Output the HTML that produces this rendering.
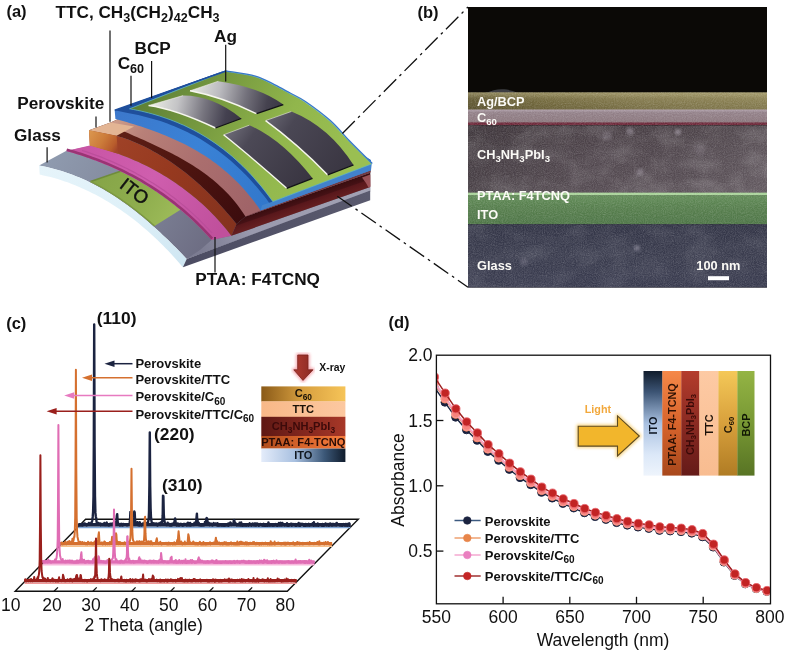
<!DOCTYPE html>
<html><head><meta charset="utf-8"><title>Figure</title>
<style>
html,body{margin:0;padding:0;background:#fff;}
svg{display:block}
text{font-family:"Liberation Sans",sans-serif;}
.b{font-weight:bold}
</style></head><body>
<svg width="785" height="650" viewBox="0 0 785 650">
<defs>
<filter id="grain" x="0" y="0" width="100%" height="100%">
  <feTurbulence type="fractalNoise" baseFrequency="0.9" numOctaves="2" seed="3" result="n"/>
  <feColorMatrix in="n" type="matrix" values="0 0 0 0 1  0 0 0 0 1  0 0 0 0 1  0.9 0.9 0.9 0 -1.05" result="a"/>
  <feComposite in="a" in2="SourceGraphic" operator="in"/>
</filter>
<filter id="cloud" x="0" y="0" width="100%" height="100%">
  <feTurbulence type="fractalNoise" baseFrequency="0.035 0.05" numOctaves="3" seed="11" result="n"/>
  <feColorMatrix in="n" type="matrix" values="0 0 0 0 1  0 0 0 0 1  0 0 0 0 1  1.6 0 0 0 -0.62" result="a"/>
  <feComposite in="a" in2="SourceGraphic" operator="in"/>
</filter>
<filter id="blur1"><feGaussianBlur stdDeviation="0.6"/></filter>
<filter id="blur2"><feGaussianBlur stdDeviation="1.6"/></filter>
<filter id="blur3"><feGaussianBlur stdDeviation="3"/></filter>
<linearGradient id="agbcp" x1="0" y1="0" x2="1" y2="0">
  <stop offset="0" stop-color="#5e5530"/><stop offset="0.25" stop-color="#70663a"/><stop offset="0.6" stop-color="#80764a"/><stop offset="1" stop-color="#887e50"/>
</linearGradient>
<linearGradient id="c60b" x1="0" y1="0" x2="0" y2="1">
  <stop offset="0" stop-color="#b0a0ab"/><stop offset="0.22" stop-color="#938189"/><stop offset="1" stop-color="#8a767c"/>
</linearGradient>
<linearGradient id="pvkb" x1="0" y1="0" x2="0" y2="1">
  <stop offset="0" stop-color="#493f45"/><stop offset="0.5" stop-color="#52484f"/><stop offset="1" stop-color="#564c53"/>
</linearGradient>
<linearGradient id="itob" x1="0" y1="0" x2="0" y2="1">
  <stop offset="0" stop-color="#628c58"/><stop offset="0.4" stop-color="#577f4e"/><stop offset="1" stop-color="#4e7547"/>
</linearGradient>
<linearGradient id="glassb" x1="0" y1="0" x2="0" y2="1">
  <stop offset="0" stop-color="#323446"/><stop offset="0.5" stop-color="#3a3c4e"/><stop offset="1" stop-color="#383a4e"/>
</linearGradient>
<linearGradient id="c60c" x1="0" y1="0" x2="1" y2="0">
  <stop offset="0" stop-color="#8a5a18"/><stop offset="0.5" stop-color="#d8a040"/><stop offset="1" stop-color="#f6c458"/>
</linearGradient>
<linearGradient id="ttcc" x1="0" y1="0" x2="1" y2="0">
  <stop offset="0" stop-color="#f8b888"/><stop offset="1" stop-color="#fcc8a0"/>
</linearGradient>
<linearGradient id="pvkc" x1="0" y1="0" x2="1" y2="0">
  <stop offset="0" stop-color="#5e1814"/><stop offset="0.6" stop-color="#8a2a20"/><stop offset="1" stop-color="#a83828"/>
</linearGradient>
<linearGradient id="ptaac" x1="0" y1="0" x2="1" y2="0">
  <stop offset="0" stop-color="#b04c1c"/><stop offset="0.6" stop-color="#e06a30"/><stop offset="1" stop-color="#f47c3c"/>
</linearGradient>
<linearGradient id="itoc" x1="0" y1="0" x2="1" y2="0">
  <stop offset="0" stop-color="#e4ecfa"/><stop offset="0.4" stop-color="#a8c0e0"/><stop offset="0.75" stop-color="#3c5878"/><stop offset="1" stop-color="#101c2c"/>
</linearGradient>
<linearGradient id="xrayg" x1="0" y1="0" x2="1" y2="0">
  <stop offset="0" stop-color="#b03a30"/><stop offset="1" stop-color="#8a2a24"/>
</linearGradient>
<linearGradient id="itod" x1="0" y1="0" x2="0" y2="1">
  <stop offset="0" stop-color="#101c2c"/><stop offset="0.2" stop-color="#3c5474"/><stop offset="0.5" stop-color="#a8c0e0"/><stop offset="0.8" stop-color="#dce8f8"/><stop offset="1" stop-color="#eef4fc"/>
</linearGradient>
<linearGradient id="ptaad" x1="0" y1="0" x2="0" y2="1">
  <stop offset="0" stop-color="#f58848"/><stop offset="0.5" stop-color="#d8642c"/><stop offset="1" stop-color="#a8481c"/>
</linearGradient>
<linearGradient id="pvkd" x1="0" y1="0" x2="0" y2="1">
  <stop offset="0" stop-color="#b43c2c"/><stop offset="0.5" stop-color="#8a2a22"/><stop offset="1" stop-color="#641a18"/>
</linearGradient>
<linearGradient id="ttcd" x1="0" y1="0" x2="0" y2="1">
  <stop offset="0" stop-color="#fdcaa4"/><stop offset="1" stop-color="#f8bc90"/>
</linearGradient>
<linearGradient id="c60d" x1="0" y1="0" x2="0" y2="1">
  <stop offset="0" stop-color="#f4c858"/><stop offset="0.5" stop-color="#d8a03c"/><stop offset="1" stop-color="#b07c24"/>
</linearGradient>
<linearGradient id="bcpd" x1="0" y1="0" x2="0" y2="1">
  <stop offset="0" stop-color="#94b444"/><stop offset="0.5" stop-color="#789834"/><stop offset="1" stop-color="#587424"/>
</linearGradient>
<linearGradient id="gl_top" gradientUnits="userSpaceOnUse" x1="40" y1="160" x2="200" y2="250">
  <stop offset="0" stop-color="#909cb0"/><stop offset="0.5" stop-color="#82889c"/><stop offset="1" stop-color="#6e6e84"/>
</linearGradient>
<linearGradient id="gl_front" gradientUnits="userSpaceOnUse" x1="40" y1="165" x2="185" y2="265">
  <stop offset="0" stop-color="#e6f4fa"/><stop offset="0.6" stop-color="#def0f8"/><stop offset="1" stop-color="#cfe6f2"/>
</linearGradient>
<linearGradient id="gl_end" gradientUnits="userSpaceOnUse" x1="185" y1="262" x2="370" y2="196">
  <stop offset="0" stop-color="#4c4c62"/><stop offset="1" stop-color="#5a5a6e"/>
</linearGradient>
<linearGradient id="gl_strip" gradientUnits="userSpaceOnUse" x1="200" y1="245" x2="370" y2="188">
  <stop offset="0" stop-color="#7c7c92"/><stop offset="0.3" stop-color="#9a9aae"/><stop offset="1" stop-color="#a2a2b4"/>
</linearGradient>
<linearGradient id="ito_a" gradientUnits="userSpaceOnUse" x1="100" y1="175" x2="170" y2="220">
  <stop offset="0" stop-color="#86a548"/><stop offset="0.6" stop-color="#8fae4e"/><stop offset="1" stop-color="#9cba58"/>
</linearGradient>
<linearGradient id="pink_a" gradientUnits="userSpaceOnUse" x1="70" y1="150" x2="215" y2="238">
  <stop offset="0" stop-color="#c854a4"/><stop offset="0.5" stop-color="#cf5eae"/><stop offset="1" stop-color="#c0509c"/>
</linearGradient>
<linearGradient id="wall_a" gradientUnits="userSpaceOnUse" x1="89" y1="138" x2="236" y2="230">
  <stop offset="0" stop-color="#a2452a"/><stop offset="0.5" stop-color="#96391f"/><stop offset="1" stop-color="#83321e"/>
</linearGradient>
<linearGradient id="oblock" gradientUnits="userSpaceOnUse" x1="89" y1="130" x2="118" y2="148">
  <stop offset="0" stop-color="#dc9850"/><stop offset="0.5" stop-color="#cc7c3a"/><stop offset="0.85" stop-color="#b85c2c"/><stop offset="1" stop-color="#a2452a"/>
</linearGradient>
<linearGradient id="pvk_end" gradientUnits="userSpaceOnUse" x1="300" y1="196" x2="304.5" y2="209">
  <stop offset="0" stop-color="#360c0e"/><stop offset="0.48" stop-color="#451115"/><stop offset="0.56" stop-color="#58171b"/><stop offset="1" stop-color="#641e20"/>
</linearGradient>
<linearGradient id="maroon_a" gradientUnits="userSpaceOnUse" x1="115" y1="130" x2="240" y2="222">
  <stop offset="0" stop-color="#5f2016"/><stop offset="0.5" stop-color="#4e1510"/><stop offset="1" stop-color="#3c0c0e"/>
</linearGradient>
<linearGradient id="rosy_a" gradientUnits="userSpaceOnUse" x1="110" y1="122" x2="245" y2="214">
  <stop offset="0" stop-color="#d0a08c"/><stop offset="0.2" stop-color="#b88078"/><stop offset="0.6" stop-color="#aa6e6e"/><stop offset="1" stop-color="#a06468"/>
</linearGradient>
<linearGradient id="blue_a" gradientUnits="userSpaceOnUse" x1="115" y1="112" x2="262" y2="207">
  <stop offset="0" stop-color="#3c78cc"/><stop offset="0.5" stop-color="#3a82d6"/><stop offset="1" stop-color="#3278cc"/>
</linearGradient>
<linearGradient id="green_a" gradientUnits="userSpaceOnUse" x1="150" y1="85" x2="330" y2="190">
  <stop offset="0" stop-color="#5e8036"/><stop offset="0.3" stop-color="#76993f"/><stop offset="0.65" stop-color="#91b64c"/><stop offset="1" stop-color="#9abf52"/>
</linearGradient>
<linearGradient id="pad1" gradientUnits="userSpaceOnUse" x1="150" y1="104" x2="238" y2="122">
  <stop offset="0" stop-color="#eceee6"/><stop offset="0.3" stop-color="#c4c4c6"/><stop offset="0.6" stop-color="#77757f"/><stop offset="0.85" stop-color="#444150"/><stop offset="1" stop-color="#3a3744"/>
</linearGradient>
<linearGradient id="pad2" gradientUnits="userSpaceOnUse" x1="192" y1="89" x2="280" y2="108">
  <stop offset="0" stop-color="#e6e8e0"/><stop offset="0.3" stop-color="#bcbcc0"/><stop offset="0.6" stop-color="#74727c"/><stop offset="0.85" stop-color="#45424f"/><stop offset="1" stop-color="#3c3946"/>
</linearGradient>
<linearGradient id="pad3" gradientUnits="userSpaceOnUse" x1="226" y1="132" x2="305" y2="185">
  <stop offset="0" stop-color="#6e6c78"/><stop offset="0.25" stop-color="#4c4956"/><stop offset="1" stop-color="#393541"/>
</linearGradient>
<linearGradient id="pad4" gradientUnits="userSpaceOnUse" x1="268" y1="118" x2="345" y2="170">
  <stop offset="0" stop-color="#666470"/><stop offset="0.25" stop-color="#4a4754"/><stop offset="1" stop-color="#3a3642"/>
</linearGradient>
<linearGradient id="agv" x1="0" y1="0" x2="0" y2="1">
  <stop offset="0" stop-color="#c8c090" stop-opacity="0.5"/><stop offset="0.35" stop-color="#c8c090" stop-opacity="0.08"/><stop offset="1" stop-color="#000" stop-opacity="0.08"/>
</linearGradient>
<linearGradient id="pvkh" x1="0" y1="0" x2="1" y2="0">
  <stop offset="0" stop-color="#000" stop-opacity="0.16"/><stop offset="0.45" stop-color="#000" stop-opacity="0"/><stop offset="1" stop-color="#fff" stop-opacity="0.08"/>
</linearGradient>

</defs>
<rect width="785" height="650" fill="#fff"/>
<g id="panel-a">
<path d="M39.1,165.6 L42.9,166.3 L46.7,167.1 L50.5,168.0 L54.2,169.0 L57.9,170.0 L61.6,171.1 L65.2,172.2 L68.8,173.5 L72.4,174.8 L75.9,176.2 L79.4,177.6 L82.8,179.1 L86.2,180.6 L89.6,182.3 L93.0,183.9 L96.3,185.7 L99.6,187.4 L102.9,189.3 L106.1,191.2 L109.3,193.1 L112.5,195.1 L115.6,197.1 L118.8,199.2 L121.9,201.4 L124.9,203.5 L128.0,205.7 L131.0,208.0 L134.0,210.3 L136.9,212.6 L139.9,215.0 L142.8,217.3 L145.7,219.8 L148.6,222.2 L151.4,224.7 L154.3,227.2 L157.1,229.8 L159.9,232.3 L162.6,234.9 L165.4,237.5 L168.1,240.1 L170.8,242.8 L173.5,245.4 L176.2,248.1 L178.8,250.8 L181.5,253.5 L184.1,256.2 L186.7,258.9 L370.2,191.8 L370.2,160 L225,90 L90,146 L66,151 Z" fill="url(#gl_top)"/>
<path d="M39.1,165.6 L42.9,166.3 L46.7,167.1 L50.5,168.0 L54.2,169.0 L57.9,170.0 L61.6,171.1 L65.2,172.2 L68.8,173.5 L72.4,174.8 L75.9,176.2 L79.4,177.6 L82.8,179.1 L86.2,180.6 L89.6,182.3 L93.0,183.9 L96.3,185.7 L99.6,187.4 L102.9,189.3 L106.1,191.2 L109.3,193.1 L112.5,195.1 L115.6,197.1 L118.8,199.2 L121.9,201.4 L124.9,203.5 L128.0,205.7 L131.0,208.0 L134.0,210.3 L136.9,212.6 L139.9,215.0 L142.8,217.3 L145.7,219.8 L148.6,222.2 L151.4,224.7 L154.3,227.2 L157.1,229.8 L159.9,232.3 L162.6,234.9 L165.4,237.5 L168.1,240.1 L170.8,242.8 L173.5,245.4 L176.2,248.1 L178.8,250.8 L181.5,253.5 L184.1,256.2 L186.7,258.9 L182.9,267.3 L180.5,264.5 L178.1,261.7 L175.7,259.0 L173.2,256.2 L170.7,253.5 L168.2,250.8 L165.6,248.2 L163.0,245.5 L160.4,242.9 L157.7,240.3 L155.0,237.8 L152.3,235.3 L149.6,232.8 L146.8,230.3 L144.0,227.9 L141.1,225.5 L138.3,223.1 L135.4,220.8 L132.5,218.5 L129.5,216.3 L126.5,214.1 L123.5,211.9 L120.5,209.8 L117.4,207.8 L114.3,205.7 L111.2,203.8 L108.1,201.8 L104.9,199.9 L101.7,198.1 L98.5,196.3 L95.2,194.6 L91.9,192.9 L88.6,191.3 L85.3,189.7 L81.9,188.2 L78.6,186.7 L75.1,185.3 L71.7,183.9 L68.3,182.6 L64.8,181.4 L61.3,180.2 L57.7,179.1 L54.2,178.1 L50.6,177.1 L47.0,176.2 L43.4,175.4 L39.7,174.6 Z" fill="url(#gl_front)" />
<polygon points="186.7,258.9 370.2,190.6 370.2,200.2 182.9,267.3" fill="url(#gl_end)" />
<polygon points="211.6,240.0 231.4,235.8 370.2,187.0 370.2,190.6 186.7,258.9 200.0,250.0" fill="url(#gl_strip)" />
<path d="M90.6,181.5 L93.8,183.1 L97.1,184.9 L100.4,186.6 L103.7,188.5 L106.9,190.4 L110.1,192.3 L113.3,194.3 L116.4,196.3 L119.6,198.4 L122.7,200.6 L125.7,202.7 L128.8,204.9 L131.8,207.2 L134.8,209.5 L137.7,211.8 L140.7,214.2 L143.6,216.5 L146.5,219.0 L149.4,221.4 L152.2,223.9 L154.5,225.9 L180.5,209.8 L179.6,209.0 L176.7,206.7 L173.9,204.4 L171.0,202.2 L168.1,200.0 L165.2,197.9 L162.2,195.7 L159.2,193.7 L156.2,191.6 L153.2,189.6 L150.1,187.7 L147.0,185.8 L143.9,183.9 L140.8,182.0 L137.6,180.2 L134.5,178.5 L131.3,176.7 L128.0,175.1 L124.8,173.4 L121.5,171.8 L120.5,171.3 Z" fill="url(#ito_a)" />
<path d="M90.6,181.5 L120.5,171.3" stroke="#6f8c3a" stroke-width="1.6" fill="none"/>
<path d="M90.6,181.5 L93.8,183.1 L97.1,184.9 L100.4,186.6 L103.7,188.5 L106.9,190.4 L110.1,192.3 L113.3,194.3 L116.4,196.3 L119.6,198.4 L122.7,200.6 L125.7,202.7 L128.8,204.9 L131.8,207.2 L134.8,209.5 L137.7,211.8 L140.7,214.2 L143.6,216.5 L146.5,219.0 L149.4,221.4 L152.2,223.9 L154.5,225.9" fill="none" stroke="#7d9a40" stroke-width="1.4" />
<path d="M66.1,151.0 L69.7,152.0 L73.3,153.1 L76.9,154.2 L80.5,155.3 L84.0,156.5 L87.5,157.7 L91.0,159.0 L94.5,160.2 L98.0,161.5 L101.4,162.9 L104.8,164.3 L108.2,165.7 L111.6,167.2 L114.9,168.7 L118.2,170.2 L121.5,171.8 L124.8,173.4 L128.0,175.1 L131.3,176.7 L134.5,178.5 L137.6,180.2 L140.8,182.0 L143.9,183.9 L147.0,185.8 L150.1,187.7 L153.2,189.6 L156.2,191.6 L159.2,193.7 L162.2,195.7 L165.2,197.9 L168.1,200.0 L171.0,202.2 L173.9,204.4 L176.7,206.7 L179.6,209.0 L182.4,211.4 L185.2,213.8 L187.9,216.2 L190.7,218.7 L193.4,221.2 L196.1,223.8 L198.7,226.4 L201.3,229.0 L203.9,231.7 L206.5,234.4 L209.1,237.2 L211.6,240.0 L231.4,235.8 L231.4,235.8 L229.2,232.9 L226.9,230.0 L224.6,227.2 L222.2,224.4 L219.8,221.7 L217.3,219.0 L214.8,216.3 L212.3,213.7 L209.7,211.1 L207.1,208.6 L204.5,206.1 L201.8,203.6 L199.1,201.2 L196.3,198.8 L193.5,196.5 L190.7,194.2 L187.8,191.9 L184.9,189.7 L182.0,187.5 L179.0,185.4 L176.0,183.3 L173.0,181.3 L169.9,179.3 L166.9,177.3 L163.8,175.4 L160.6,173.6 L157.5,171.8 L154.3,170.0 L151.1,168.3 L147.8,166.6 L144.6,165.0 L141.3,163.4 L138.0,161.8 L134.6,160.4 L131.3,158.9 L127.9,157.5 L124.5,156.2 L121.1,154.9 L117.7,153.6 L114.3,152.5 L110.8,151.3 L107.4,150.2 L103.9,149.2 L100.4,148.2 L96.9,147.2 L93.3,146.3 L89.8,145.5 Z" fill="url(#pink_a)"/>
<path d="M66.7,149.7 L70.3,150.7 L73.9,151.8 L77.5,152.9 L81.1,154.0 L84.6,155.2 L88.1,156.4 L91.6,157.7 L95.1,158.9 L98.6,160.2 L102.0,161.6 L105.4,163.0 L108.8,164.4 L112.2,165.9 L115.5,167.4 L118.8,168.9 L122.1,170.5 L125.4,172.1 L128.6,173.8 L131.9,175.4 L135.1,177.2 L138.2,178.9 L141.4,180.7 L144.5,182.6 L147.6,184.5 L150.7,186.4 L153.8,188.3 L156.8,190.3 L159.8,192.4 L162.8,194.4 L165.8,196.6 L168.7,198.7 L171.6,200.9 L174.5,203.1 L177.3,205.4 L180.2,207.7 L183.0,210.1 L185.8,212.5 L188.5,214.9 L191.3,217.4 L194.0,219.9 L196.7,222.5 L199.3,225.1 L201.9,227.7 L204.5,230.4 L207.1,233.1 L209.7,235.9 L212.2,238.7" fill="none" stroke="#9a3474" stroke-width="2.6" />
<path d="M82.0,150.4 L83.1,150.7 L86.6,151.9 L90.1,153.1 L93.6,154.4 L97.1,155.6 L100.6,156.9 L104.0,158.3 L107.4,159.7 L110.8,161.1 L114.2,162.6 L117.5,164.1 L120.8,165.6 L124.1,167.2 L127.4,168.8 L130.6,170.5 L133.9,172.1 L137.1,173.9 L140.2,175.6 L143.4,177.4 L146.5,179.3 L149.6,181.2 L152.7,183.1 L155.8,185.0 L158.8,187.0 L161.8,189.1 L164.8,191.1 L167.8,193.3 L170.7,195.4 L173.6,197.6 L176.5,199.8 L179.3,202.1 L182.2,204.4 L185.0,206.8 L187.8,209.2 L190.5,211.6 L193.3,214.1 L196.0,216.6 L198.7,219.2 L201.3,221.8 L203.9,224.4 L206.5,227.1 L209.1,229.8 L211.7,232.6 L212.0,233.0" fill="none" stroke="#b84c98" stroke-width="1.2" opacity="0.8"/>
<path d="M89.0,130.2 L92.8,130.7 L96.6,131.2 L100.3,131.9 L104.0,132.6 L107.7,133.4 L111.4,134.3 L115.1,135.3 L118.7,136.4 L122.3,137.6 L125.9,138.8 L129.4,140.1 L132.9,141.5 L136.4,143.0 L139.9,144.5 L143.3,146.1 L146.8,147.8 L150.1,149.5 L153.5,151.4 L156.8,153.2 L160.1,155.2 L163.4,157.2 L166.6,159.2 L169.8,161.3 L173.0,163.5 L176.1,165.7 L179.2,168.0 L182.3,170.3 L185.3,172.6 L188.4,175.0 L191.3,177.5 L194.3,180.0 L197.2,182.5 L200.1,185.1 L202.9,187.7 L205.7,190.3 L208.5,193.0 L211.2,195.7 L213.9,198.4 L216.6,201.1 L219.2,203.9 L221.8,206.7 L224.3,209.5 L226.8,212.4 L229.3,215.2 L231.7,218.1 L234.1,221.0 L236.5,223.9 L231.4,235.8 L229.2,232.9 L226.9,230.0 L224.6,227.2 L222.2,224.4 L219.8,221.7 L217.3,219.0 L214.8,216.3 L212.3,213.7 L209.7,211.1 L207.1,208.6 L204.5,206.1 L201.8,203.6 L199.1,201.2 L196.3,198.8 L193.5,196.5 L190.7,194.2 L187.8,191.9 L184.9,189.7 L182.0,187.5 L179.0,185.4 L176.0,183.3 L173.0,181.3 L169.9,179.3 L166.9,177.3 L163.8,175.4 L160.6,173.6 L157.5,171.8 L154.3,170.0 L151.1,168.3 L147.8,166.6 L144.6,165.0 L141.3,163.4 L138.0,161.8 L134.6,160.4 L131.3,158.9 L127.9,157.5 L124.5,156.2 L121.1,154.9 L117.7,153.6 L114.3,152.5 L110.8,151.3 L107.4,150.2 L103.9,149.2 L100.4,148.2 L96.9,147.2 L93.3,146.3 L89.8,145.5 Z" fill="url(#wall_a)" />
<polygon points="236.5,223.9 245.5,216.6 370.2,172.8 370.2,187.0 231.4,235.8" fill="url(#pvk_end)" />
<path d="M89.0,130.2 L92.8,130.7 L96.6,131.2 L100.3,131.9 L104.0,132.6 L107.7,133.4 L111.4,134.3 L115.1,135.3 L118.7,136.4 L122.3,137.6 L125.9,138.8 L129.4,140.1 L132.9,141.5 L136.4,143.0 L139.9,144.5 L143.3,146.1 L146.8,147.8 L150.1,149.5 L153.5,151.4 L156.8,153.2 L160.1,155.2 L163.4,157.2 L166.6,159.2 L169.8,161.3 L173.0,163.5 L176.1,165.7 L179.2,168.0 L182.3,170.3 L185.3,172.6 L188.4,175.0 L191.3,177.5 L194.3,180.0 L197.2,182.5 L200.1,185.1 L202.9,187.7 L205.7,190.3 L208.5,193.0 L211.2,195.7 L213.9,198.4 L216.6,201.1 L219.2,203.9 L221.8,206.7 L224.3,209.5 L226.8,212.4 L229.3,215.2 L231.7,218.1 L234.1,221.0 L236.5,223.9 L245.5,216.6 L370.2,172.8 L370.2,160 L225,72 L110.5,122.5 Z" fill="url(#maroon_a)"/>
<path d="M112.0,126.0 L115.2,127.4 L118.3,128.9 L121.5,130.3 L124.7,131.7 L127.9,133.1 L131.0,134.5 L134.2,135.9 L137.4,137.3 L140.6,138.7 L143.8,140.1 L146.9,141.6 L150.1,143.0 L153.3,144.5 L156.4,145.9 L159.6,147.4 L162.7,148.9 L165.8,150.5 L168.9,152.0 L172.0,153.6 L175.1,155.2 L178.1,156.8 L181.1,158.5 L184.1,160.2 L187.1,162.0 L190.1,163.7 L193.0,165.5 L195.9,167.4 L198.7,169.3 L201.6,171.3 L204.4,173.3 L207.1,175.3 L209.9,177.4 L212.6,179.6 L215.2,181.8 L217.8,184.0 L220.4,186.4 L222.9,188.8 L225.4,191.2 L227.9,193.7 L230.2,196.3 L232.6,199.0 L234.9,201.7 L237.1,204.6 L239.3,207.4 L241.4,210.4 L243.5,213.5 L245.5,216.6 L370.2,172.8 L370.2,160 L225,72 L110.5,122.5 Z" fill="url(#rosy_a)"/>
<polygon points="89.0,130.2 110.5,122.5 134.0,126.5 116.6,135.8" fill="#e3b594" />
<polygon points="89.0,130.2 116.6,135.8 118.0,153.8 89.8,145.5" fill="url(#oblock)" />
<polygon points="260.5,210.5 371.0,170.2 370.2,172.8 245.5,216.6" fill="#6e3a44" />
<path d="M115.4,119.0 L119.1,120.0 L122.9,121.1 L126.6,122.1 L130.2,123.2 L133.9,124.3 L137.5,125.5 L141.1,126.6 L144.6,127.8 L148.2,129.0 L151.7,130.3 L155.2,131.5 L158.6,132.8 L162.1,134.2 L165.5,135.5 L168.8,137.0 L172.2,138.4 L175.5,139.9 L178.8,141.4 L182.1,143.0 L185.3,144.6 L188.5,146.3 L191.7,148.0 L194.8,149.8 L197.9,151.6 L201.0,153.4 L204.1,155.3 L207.1,157.3 L210.1,159.3 L213.0,161.4 L216.0,163.6 L218.8,165.8 L221.7,168.0 L224.5,170.4 L227.3,172.8 L230.1,175.2 L232.8,177.8 L235.5,180.4 L238.2,183.0 L240.8,185.8 L243.4,188.6 L245.9,191.5 L248.4,194.5 L250.9,197.5 L253.4,200.6 L255.8,203.8 L258.2,207.1 L260.5,210.5 L371,170.2 L371,160 L225,70.5 L114.7,110.3 Z" fill="url(#blue_a)"/>
<path d="M114.7,110.3 L126.5,112.8 L130.4,113.5 L134.3,114.3 L138.2,115.1 L142.0,116.0 L145.7,116.9 L149.5,117.9 L153.1,118.9 L156.8,120.0 L160.4,121.1 L163.9,122.3 L167.4,123.6 L170.9,124.9 L174.3,126.3 L177.7,127.7 L181.1,129.2 L184.4,130.7 L187.7,132.3 L190.9,133.9 L194.1,135.6 L197.3,137.3 L200.4,139.1 L203.5,141.0 L206.6,142.9 L209.6,144.9 L212.6,146.9 L215.6,148.9 L218.5,151.1 L221.4,153.3 L224.3,155.5 L227.1,157.8 L229.9,160.1 L232.7,162.5 L235.4,165.0 L238.1,167.5 L240.8,170.0 L243.5,172.7 L246.1,175.3 L248.7,178.0 L251.2,180.8 L253.8,183.7 L256.3,186.5 L258.8,189.5 L261.2,192.5 L263.7,195.5 L266.1,198.6 L268.4,201.8 L270.8,205.0 L272.8,201.6 L270.5,198.4 L268.1,195.2 L265.7,192.1 L263.3,189.0 L260.9,186.0 L258.4,183.1 L255.9,180.2 L253.4,177.3 L250.9,174.5 L248.3,171.8 L245.7,169.1 L243.1,166.5 L240.4,163.9 L237.7,161.4 L235.0,158.9 L232.3,156.5 L229.5,154.2 L226.7,151.9 L223.8,149.6 L220.9,147.4 L218.0,145.3 L215.1,143.2 L212.1,141.2 L209.1,139.2 L206.1,137.3 L203.0,135.4 L199.9,133.6 L196.7,131.8 L193.5,130.1 L190.3,128.5 L187.1,126.9 L183.8,125.3 L180.4,123.9 L177.1,122.4 L173.6,121.1 L170.2,119.7 L166.7,118.5 L163.2,117.3 L159.6,116.1 L156.0,115.0 L152.3,113.9 L148.6,112.9 L144.9,112.0 L141.1,111.1 L137.3,110.3 L133.4,109.5 L129.5,108.8 L225,70.5 Z" fill="#1f4f9c"/>
<polygon points="272.8,201.6 371.7,163.9 371.0,170.2 260.5,210.5 262.0,205.2" fill="#4282cc" />
<polygon points="362.0,177.6 370.3,174.6 370.6,186.6 368.5,187.6 366.0,183.0" fill="#a85c62" opacity="0.85"/>
<path d="M225.4,71.3 C230.3,72.2 246.6,74.2 254.7,76.5 C262.8,78.8 267.9,82.1 273.8,85.0 C279.7,87.9 284.8,90.9 290.0,93.7 C295.2,96.5 298.2,97.4 304.8,101.9 C311.4,106.5 322.4,114.5 329.7,121.0 C337.0,127.5 342.9,135.0 348.8,141.1 C354.7,147.2 361.2,153.5 365.0,157.3 C368.8,161.1 370.6,162.8 371.7,163.9 L272.8,201.6 L272.8,201.6 L270.5,198.4 L268.1,195.2 L265.7,192.1 L263.3,189.0 L260.9,186.0 L258.4,183.1 L255.9,180.2 L253.4,177.3 L250.9,174.5 L248.3,171.8 L245.7,169.1 L243.1,166.5 L240.4,163.9 L237.7,161.4 L235.0,158.9 L232.3,156.5 L229.5,154.2 L226.7,151.9 L223.8,149.6 L220.9,147.4 L218.0,145.3 L215.1,143.2 L212.1,141.2 L209.1,139.2 L206.1,137.3 L203.0,135.4 L199.9,133.6 L196.7,131.8 L193.5,130.1 L190.3,128.5 L187.1,126.9 L183.8,125.3 L180.4,123.9 L177.1,122.4 L173.6,121.1 L170.2,119.7 L166.7,118.5 L163.2,117.3 L159.6,116.1 L156.0,115.0 L152.3,113.9 L148.6,112.9 L144.9,112.0 L141.1,111.1 L137.3,110.3 L133.4,109.5 L129.5,108.8 L225.4,71.3 Z" fill="url(#green_a)" stroke="#5fb8c8" stroke-width="0.7"/>
<path d="M226.0,70.9 C230.9,71.8 247.2,73.8 255.3,76.1 C263.4,78.4 268.5,81.7 274.4,84.6 C280.3,87.5 285.4,90.5 290.6,93.3 C295.8,96.1 298.8,97.0 305.4,101.5 C312.0,106.0 323.0,114.1 330.3,120.6 C337.6,127.1 343.5,134.6 349.4,140.7 C355.3,146.8 361.8,153.1 365.6,156.9 C369.4,160.7 371.2,162.4 372.3,163.5" fill="none" stroke="#3a78c8" stroke-width="1.3"/>
<path d="M114.7,110.3 L225.4,71.3" fill="none" stroke="#1f4f9c" stroke-width="1.6"/>
<path d="M148.6,105.5 L183.0,95.6 Q213.0,95.5 241.3,118.5 L215.5,128.0 Q174.3,108.8 148.6,105.5 Z" fill="url(#pad1)"/>
<path d="M215.5,128.0 Q174.3,108.8 148.6,105.5" stroke="#f6f6ee" stroke-width="1.4" fill="none"/>
<path d="M148.6,105.5 L183.0,95.6" stroke="#f0f0e8" stroke-width="0.8" fill="none" opacity="0.7"/>
<path d="M215.5,128.0 L241.3,118.5" stroke="#121218" stroke-width="1.3" fill="none"/>
<path d="M190.0,90.8 L218.3,81.2 Q258.6,86.7 283.3,104.6 L256.6,113.7 Q221.1,96.6 190.0,90.8 Z" fill="url(#pad2)"/>
<path d="M256.6,113.7 Q221.1,96.6 190.0,90.8" stroke="#f6f6ee" stroke-width="1.4" fill="none"/>
<path d="M190.0,90.8 L218.3,81.2" stroke="#f0f0e8" stroke-width="0.8" fill="none" opacity="0.7"/>
<path d="M256.6,113.7 L283.3,104.6" stroke="#121218" stroke-width="1.3" fill="none"/>
<path d="M223.6,134.8 L249.4,125.2 Q282.8,140.1 312.5,178.3 L286.7,188.3 Q251.2,156.8 223.6,134.8 Z" fill="url(#pad3)"/>
<path d="M286.7,188.3 Q251.2,156.8 223.6,134.8" stroke="#f6f6ee" stroke-width="1.4" fill="none"/>
<path d="M223.6,134.8 L249.4,125.2" stroke="#f0f0e8" stroke-width="0.8" fill="none" opacity="0.7"/>
<path d="M286.7,188.3 L312.5,178.3" stroke="#121218" stroke-width="1.3" fill="none"/>
<path d="M265.6,120.6 L291.4,111.5 Q329.2,126.8 353.5,165.0 L327.7,174.9 Q297.8,144.1 265.6,120.6 Z" fill="url(#pad4)"/>
<path d="M327.7,174.9 Q297.8,144.1 265.6,120.6" stroke="#f6f6ee" stroke-width="1.4" fill="none"/>
<path d="M265.6,120.6 L291.4,111.5" stroke="#f0f0e8" stroke-width="0.8" fill="none" opacity="0.7"/>
<path d="M327.7,174.9 L353.5,165.0" stroke="#121218" stroke-width="1.3" fill="none"/>
<line x1="110" y1="30.6" x2="110" y2="121.8" stroke="#111" stroke-width="1.2"/>
<line x1="151.6" y1="61" x2="151.6" y2="98" stroke="#111" stroke-width="1.2"/>
<line x1="131" y1="75.7" x2="131" y2="105.7" stroke="#111" stroke-width="1.2"/>
<line x1="96" y1="116.4" x2="96" y2="127.4" stroke="#111" stroke-width="1.2"/>
<line x1="47.1" y1="147.3" x2="47.1" y2="162.5" stroke="#111" stroke-width="1.2"/>
<line x1="225.7" y1="44.8" x2="225.7" y2="81.5" stroke="#111" stroke-width="1.2"/>
<line x1="215" y1="237" x2="215" y2="272.6" stroke="#111" stroke-width="1.2"/>
<text x="6.4" y="17.3" class="b" font-size="16.5" fill="#111">(a)</text>
<text x="55.5" y="18.3" class="b" font-size="17.2" fill="#111">TTC, CH<tspan dy="4" font-size="12.6">3</tspan><tspan dy="-4" font-size="0.1"> </tspan>(CH<tspan dy="4" font-size="12.6">2</tspan><tspan dy="-4" font-size="0.1"> </tspan>)<tspan dy="4" font-size="12.6">42</tspan><tspan dy="-4" font-size="0.1"> </tspan>CH<tspan dy="4" font-size="12.6">3</tspan><tspan dy="-4" font-size="0.1"> </tspan></text>
<text x="214" y="41.8" class="b" font-size="17.2" fill="#111">Ag</text>
<text x="134.5" y="54.3" class="b" font-size="17.2" fill="#111">BCP</text>
<text x="117.7" y="69.3" class="b" font-size="17.2" fill="#111">C<tspan dy="4" font-size="12.6">60</tspan><tspan dy="-4" font-size="0.1"> </tspan></text>
<text x="17.3" y="108.8" class="b" font-size="17.2" fill="#111">Perovskite</text>
<text x="14" y="141.4" class="b" font-size="17.2" fill="#111">Glass</text>
<text x="195.2" y="285.4" class="b" font-size="17.2" fill="#111">PTAA: F4TCNQ</text>
<text transform="translate(118.5,186.9) rotate(38)" font-size="18.5" fill="#111" stroke="#111" stroke-width="0.45">ITO</text>
</g>
<g id="panel-b">
<rect x="468" y="7" width="299" height="280.5" fill="#0b0906"/>
<path d="M486,93.5 C496,88.2 506,87.8 520,93.5 Z" fill="#3c3e42" filter="url(#blur1)"/>
<rect x="468" y="92.5" width="299" height="18.5" fill="url(#agbcp)"/>
<rect x="468" y="92.3" width="299" height="18.7" fill="url(#agv)"/>
<rect x="468" y="109.5" width="299" height="14" fill="url(#c60b)"/>
<rect x="468" y="122.4" width="299" height="2.8" fill="#6e2c3a" filter="url(#blur1)"/>
<rect x="468" y="125.4" width="299" height="68" fill="url(#pvkb)"/>
<rect x="468" y="192.6" width="299" height="3" fill="#a9d39a"/>
<rect x="468" y="195.4" width="299" height="29" fill="url(#itob)"/>
<rect x="468" y="224.2" width="299" height="63.3" fill="url(#glassb)"/>
<rect x="468" y="125.4" width="299" height="67" fill="#b8a8b8" opacity="0.2" filter="url(#cloud)"/>
<rect x="468" y="225" width="299" height="62.5" fill="#9090b0" opacity="0.1" filter="url(#cloud)"/>
<rect x="468" y="125.4" width="299" height="67" fill="url(#pvkh)"/>
<rect x="468" y="92" width="299" height="195.5" fill="#ffffff" opacity="0.18" filter="url(#grain)"/>
<circle cx="630" cy="131" r="3.5" fill="#e8e0f0" opacity="0.3" filter="url(#blur2)"/>
<circle cx="678" cy="132" r="3" fill="#e8e0f0" opacity="0.35" filter="url(#blur2)"/>
<circle cx="607" cy="136" r="5" fill="#e8e0f0" opacity="0.15" filter="url(#blur2)"/>
<circle cx="640" cy="172" r="3.5" fill="#e8e0f0" opacity="0.25" filter="url(#blur2)"/>
<circle cx="637" cy="248" r="3" fill="#e8e0f0" opacity="0.3" filter="url(#blur2)"/>
<circle cx="524" cy="262" r="4" fill="#e8e0f0" opacity="0.15" filter="url(#blur2)"/>
<circle cx="700" cy="150" r="6" fill="#e8e0f0" opacity="0.1" filter="url(#blur2)"/>
<text x="477" y="106" class="b" font-size="12.8" fill="#fbfaf6">Ag/BCP</text>
<text x="477" y="121.5" class="b" font-size="12.8" fill="#fbfaf6">C<tspan dy="3.2" font-size="9.6">60</tspan><tspan dy="-3.2" font-size="0.1"> </tspan></text>
<text x="477" y="158.5" class="b" font-size="12.8" fill="#fbfaf6">CH<tspan dy="3.2" font-size="9.6">3</tspan><tspan dy="-3.2" font-size="0.1"> </tspan>NH<tspan dy="3.2" font-size="9.6">3</tspan><tspan dy="-3.2" font-size="0.1"> </tspan>PbI<tspan dy="3.2" font-size="9.6">3</tspan><tspan dy="-3.2" font-size="0.1"> </tspan></text>
<text x="477" y="199.5" class="b" font-size="12.8" fill="#fbfaf6">PTAA: F4TCNQ</text>
<text x="477" y="218.6" class="b" font-size="12.8" fill="#fbfaf6">ITO</text>
<text x="477" y="269.6" class="b" font-size="12.8" fill="#fbfaf6">Glass</text>
<text x="696.3" y="269.6" class="b" font-size="12.8" fill="#fbfaf6">100 nm</text>
<rect x="708" y="276.2" width="21" height="4" fill="#fff"/>
<text x="417.5" y="17.5" class="b" font-size="16.5" fill="#111">(b)</text>
<line x1="342.4" y1="133.5" x2="468" y2="7" stroke="#111" stroke-width="1.3" stroke-dasharray="17.6 4.6 2.6 4.6"/>
<line x1="337.3" y1="196.2" x2="468" y2="287.2" stroke="#111" stroke-width="1.3" stroke-dasharray="17.6 4.6 2.6 4.6"/>
</g>
<g id="panel-c">
<polygon points="15.2,591.2 287.3,591.2 358.3,519.2 85.6,519.2" fill="none" stroke="#111" stroke-width="1.4"/>
<line x1="78.3" y1="527.4" x2="350.4" y2="527.4" stroke="#7fa6d8" stroke-width="1.6"/>
<polyline points="78.3,525.4 78.7,525.1 79.1,525.4 79.5,525.3 79.9,524.5 80.2,525.4 80.6,524.3 81.0,525.2 81.4,524.4 81.8,525.4 82.2,525.2 82.6,525.4 83.0,523.6 83.4,524.6 83.7,525.0 84.1,525.0 84.5,523.5 84.9,523.4 85.3,524.4 85.7,524.9 86.1,525.1 86.5,525.4 86.9,524.8 87.2,524.6 87.6,525.0 88.0,524.8 88.4,524.4 88.8,523.0 89.2,524.3 89.6,523.4 90.0,524.0 90.4,523.6 90.7,523.8 91.1,523.7 91.5,522.4 91.9,522.0 92.3,520.2 92.7,516.9 93.1,511.8 93.5,496.5 93.8,446.3 94.2,324.5 94.6,446.8 95.0,496.2 95.4,512.4 95.8,516.4 96.2,518.3 96.6,521.9 97.0,523.1 97.3,522.8 97.7,523.6 98.1,524.4 98.5,522.9 98.9,523.9 99.3,524.2 99.7,523.9 100.1,523.4 100.5,524.8 100.8,525.2 101.2,523.8 101.6,524.7 102.0,524.7 102.4,524.9 102.8,523.9 103.2,524.3 103.6,524.9 104.0,524.0 104.3,523.0 104.7,523.8 105.1,525.3 105.5,523.8 105.9,524.9 106.3,523.3 106.7,522.5 107.1,525.2 107.5,524.7 107.8,524.3 108.2,524.4 108.6,524.3 109.0,525.5 109.4,525.4 109.8,525.1 110.2,523.7 110.6,524.9 111.0,525.0 111.3,525.0 111.7,523.7 112.1,524.0 112.5,524.4 112.9,524.9 113.3,523.1 113.7,524.8 114.1,524.5 114.5,523.2 114.8,525.1 115.2,523.9 115.6,523.2 116.0,522.0 116.4,521.4 116.8,516.0 117.2,514.1 117.6,520.5 117.9,523.7 118.3,523.3 118.7,524.3 119.1,524.8 119.5,524.1 119.9,525.5 120.3,524.4 120.7,524.4 121.1,523.8 121.4,525.1 121.8,523.9 122.2,525.5 122.6,525.5 123.0,525.3 123.4,523.9 123.8,524.4 124.2,524.1 124.6,524.1 124.9,524.7 125.3,524.8 125.7,524.2 126.1,524.5 126.5,525.1 126.9,525.4 127.3,525.3 127.7,524.7 128.1,525.1 128.4,524.9 128.8,524.3 129.2,524.6 129.6,522.8 130.0,520.6 130.4,511.9 130.8,514.0 131.2,520.7 131.6,523.1 131.9,524.3 132.3,523.4 132.7,524.1 133.1,523.7 133.5,521.0 133.9,517.4 134.3,511.4 134.7,512.5 135.1,520.2 135.4,523.1 135.8,523.9 136.2,524.1 136.6,524.8 137.0,524.6 137.4,522.3 137.8,525.0 138.2,524.8 138.6,525.4 138.9,525.3 139.3,525.5 139.7,522.2 140.1,525.0 140.5,524.3 140.9,524.1 141.3,525.5 141.7,524.4 142.0,524.5 142.4,523.7 142.8,523.4 143.2,525.1 143.6,525.0 144.0,524.7 144.4,524.0 144.8,522.0 145.2,523.9 145.5,523.4 145.9,524.2 146.3,523.1 146.7,524.5 147.1,522.9 147.5,523.8 147.9,522.9 148.3,520.8 148.7,518.7 149.0,511.6 149.4,485.2 149.8,432.4 150.2,486.8 150.6,508.2 151.0,517.5 151.4,520.6 151.8,522.8 152.2,523.8 152.5,523.5 152.9,524.4 153.3,524.1 153.7,523.2 154.1,523.3 154.5,524.5 154.9,524.1 155.3,524.1 155.7,523.6 156.0,523.9 156.4,524.5 156.8,523.6 157.2,524.3 157.6,525.5 158.0,524.0 158.4,524.5 158.8,523.4 159.2,524.3 159.5,523.4 159.9,524.0 160.3,524.9 160.7,522.5 161.1,523.0 161.5,524.2 161.9,522.7 162.3,521.0 162.7,515.4 163.0,495.6 163.4,496.2 163.8,514.5 164.2,519.6 164.6,521.6 165.0,524.1 165.4,523.8 165.8,523.8 166.1,525.1 166.5,525.2 166.9,523.6 167.3,525.1 167.7,522.6 168.1,525.1 168.5,523.3 168.9,524.6 169.3,525.2 169.6,524.9 170.0,525.6 170.4,524.6 170.8,525.5 171.2,524.0 171.6,525.6 172.0,524.3 172.4,523.7 172.8,523.5 173.1,524.7 173.5,524.3 173.9,522.8 174.3,523.2 174.7,520.3 175.1,518.4 175.5,521.2 175.9,524.5 176.3,524.9 176.6,525.4 177.0,524.8 177.4,525.3 177.8,523.4 178.2,525.6 178.6,525.0 179.0,524.4 179.4,525.5 179.8,524.1 180.1,525.0 180.5,524.4 180.9,523.7 181.3,525.0 181.7,524.5 182.1,524.8 182.5,525.7 182.9,524.7 183.3,525.5 183.6,524.3 184.0,523.8 184.4,525.0 184.8,524.6 185.2,525.0 185.6,524.6 186.0,524.8 186.4,523.8 186.8,525.6 187.1,524.3 187.5,525.3 187.9,522.8 188.3,525.3 188.7,524.9 189.1,523.3 189.5,524.8 189.9,525.4 190.2,522.9 190.6,524.6 191.0,525.4 191.4,525.1 191.8,524.7 192.2,524.8 192.6,524.8 193.0,525.2 193.4,524.0 193.7,524.8 194.1,525.0 194.5,522.8 194.9,524.2 195.3,523.4 195.7,524.2 196.1,522.9 196.5,517.9 196.9,513.6 197.2,519.7 197.6,520.4 198.0,523.4 198.4,524.2 198.8,522.9 199.2,525.3 199.6,524.8 200.0,524.4 200.4,524.5 200.7,525.5 201.1,525.3 201.5,524.6 201.9,525.6 202.3,525.4 202.7,524.4 203.1,525.2 203.5,524.5 203.9,525.4 204.2,524.4 204.6,524.3 205.0,521.9 205.4,523.4 205.8,523.4 206.2,519.2 206.6,518.1 207.0,518.3 207.4,520.4 207.7,523.6 208.1,524.8 208.5,524.5 208.9,523.0 209.3,524.2 209.7,525.2 210.1,524.7 210.5,524.0 210.9,523.4 211.2,523.9 211.6,524.9 212.0,525.3 212.4,525.5 212.8,525.2 213.2,524.5 213.6,523.1 214.0,524.4 214.4,524.3 214.7,524.1 215.1,523.6 215.5,524.5 215.9,523.5 216.3,524.7 216.7,524.7 217.1,525.4 217.5,523.1 217.8,524.8 218.2,525.7 218.6,525.1 219.0,524.9 219.4,525.6 219.8,525.2 220.2,525.3 220.6,525.0 221.0,525.5 221.3,525.4 221.7,524.8 222.1,525.7 222.5,524.7 222.9,525.0 223.3,525.8 223.7,525.6 224.1,525.6 224.5,525.8 224.8,525.5 225.2,525.6 225.6,524.2 226.0,525.2 226.4,524.4 226.8,525.2 227.2,525.5 227.6,525.2 228.0,524.5 228.3,523.4 228.7,525.7 229.1,524.6 229.5,524.8 229.9,524.3 230.3,522.4 230.7,524.4 231.1,523.6 231.5,525.1 231.8,523.8 232.2,524.4 232.6,524.5 233.0,524.2 233.4,523.8 233.8,520.5 234.2,519.9 234.6,522.3 235.0,523.2 235.3,522.7 235.7,524.0 236.1,524.1 236.5,524.1 236.9,525.4 237.3,524.7 237.7,525.3 238.1,524.3 238.5,525.0 238.8,524.6 239.2,525.5 239.6,522.6 240.0,524.2 240.4,525.5 240.8,525.6 241.2,522.5 241.6,525.3 241.9,524.7 242.3,524.5 242.7,525.8 243.1,524.3 243.5,525.5 243.9,525.3 244.3,524.4 244.7,524.8 245.1,525.7 245.4,524.7 245.8,525.1 246.2,525.5 246.6,525.7 247.0,525.5 247.4,524.9 247.8,524.5 248.2,525.0 248.6,525.8 248.9,524.0 249.3,525.2 249.7,523.3 250.1,524.9 250.5,525.1 250.9,525.1 251.3,525.7 251.7,525.5 252.1,524.0 252.4,523.5 252.8,525.1 253.2,524.4 253.6,524.7 254.0,525.6 254.4,523.5 254.8,524.8 255.2,524.6 255.6,523.4 255.9,525.7 256.3,525.0 256.7,523.6 257.1,523.5 257.5,524.5 257.9,525.0 258.3,524.0 258.7,525.8 259.1,525.5 259.4,525.0 259.8,524.9 260.2,523.9 260.6,524.3 261.0,524.2 261.4,525.2 261.8,524.5 262.2,524.4 262.6,525.7 262.9,525.8 263.3,525.2 263.7,523.8 264.1,524.2 264.5,525.8 264.9,525.5 265.3,525.4 265.7,525.7 266.0,524.8 266.4,524.9 266.8,525.4 267.2,525.7 267.6,525.0 268.0,525.6 268.4,522.4 268.8,524.6 269.2,525.7 269.5,523.9 269.9,525.5 270.3,525.6 270.7,524.1 271.1,525.5 271.5,525.4 271.9,525.2 272.3,525.0 272.7,525.8 273.0,524.7 273.4,525.6 273.8,525.7 274.2,524.9 274.6,525.4 275.0,524.9 275.4,524.1 275.8,525.3 276.2,524.9 276.5,524.4 276.9,525.7 277.3,525.2 277.7,525.7 278.1,525.1 278.5,525.3 278.9,522.9 279.3,525.4 279.7,524.4 280.0,525.6 280.4,524.4 280.8,522.8 281.2,524.9 281.6,525.5 282.0,525.0 282.4,522.9 282.8,525.4 283.2,524.2 283.5,524.8 283.9,524.6 284.3,525.2 284.7,525.6 285.1,525.2 285.5,524.4 285.9,524.3 286.3,524.5 286.7,525.5 287.0,523.1 287.4,525.5 287.8,525.8 288.2,524.3 288.6,525.8 289.0,524.8 289.4,525.5 289.8,525.1 290.1,524.9 290.5,524.8 290.9,523.6 291.3,523.7 291.7,525.8 292.1,525.5 292.5,525.3 292.9,524.0 293.3,524.9 293.6,525.0 294.0,525.2 294.4,524.9 294.8,524.9 295.2,524.1 295.6,525.8 296.0,525.0 296.4,524.8 296.8,525.7 297.1,525.4 297.5,523.9 297.9,524.4 298.3,525.1 298.7,522.9 299.1,525.8 299.5,524.8 299.9,525.0 300.3,525.7 300.6,523.6 301.0,523.6 301.4,524.1 301.8,524.3 302.2,523.9 302.6,523.8 303.0,524.3 303.4,525.2 303.8,525.7 304.1,525.4 304.5,525.6 304.9,524.4 305.3,525.8 305.7,524.0 306.1,525.7 306.5,525.4 306.9,525.2 307.3,525.5 307.6,524.7 308.0,525.6 308.4,525.2 308.8,523.8 309.2,524.8 309.6,525.7 310.0,525.2 310.4,524.9 310.8,524.6 311.1,525.4 311.5,525.4 311.9,525.2 312.3,525.1 312.7,523.2 313.1,524.9 313.5,525.8 313.9,522.3 314.2,523.5 314.6,525.1 315.0,525.6 315.4,525.6 315.8,525.3 316.2,525.5 316.6,525.3 317.0,525.7 317.4,524.8 317.7,523.4 318.1,524.7 318.5,525.8 318.9,524.5 319.3,524.5 319.7,525.0 320.1,525.0 320.5,525.0 320.9,524.9 321.2,525.4 321.6,525.2 322.0,525.7 322.4,524.0 322.8,525.8 323.2,525.2 323.6,525.1 324.0,525.7 324.4,524.9 324.7,524.7 325.1,525.0 325.5,523.5 325.9,525.1 326.3,525.6 326.7,525.6 327.1,523.9 327.5,525.4 327.9,524.7 328.2,524.9 328.6,525.8 329.0,525.8 329.4,523.6 329.8,524.0 330.2,524.7 330.6,523.6 331.0,524.9 331.4,525.6 331.7,525.2 332.1,525.3 332.5,523.9 332.9,525.5 333.3,523.9 333.7,525.1 334.1,524.5 334.5,524.1 334.9,524.3 335.2,525.4 335.6,523.7 336.0,525.3 336.4,525.5 336.8,523.0 337.2,525.1 337.6,525.0 338.0,525.1 338.3,525.1 338.7,524.5 339.1,524.3 339.5,525.4 339.9,525.5 340.3,524.2 340.7,525.5 341.1,525.1 341.5,525.2 341.8,525.7 342.2,525.7 342.6,525.4 343.0,524.5 343.4,524.1 343.8,525.3 344.2,524.7 344.6,524.9 345.0,525.7 345.3,524.9 345.7,523.9 346.1,525.3 346.5,525.7 346.9,525.6 347.3,523.9 347.7,525.8 348.1,525.0 348.5,525.3 348.8,524.4 349.2,523.3 349.6,525.8 350.0,525.5 350.4,525.1" fill="none" stroke="#1b2340" stroke-width="2.4" stroke-linejoin="round"/>
<line x1="78.3" y1="524.8" x2="350.4" y2="524.8" stroke="#1b2340" stroke-width="3.4"/>
<line x1="60.0" y1="546.2" x2="332.1" y2="546.2" stroke="#f6c08a" stroke-width="1.6"/>
<polyline points="60.0,543.4 60.4,544.2 60.8,543.8 61.2,543.9 61.6,542.5 61.9,543.7 62.3,544.5 62.7,543.4 63.1,544.3 63.5,544.1 63.9,543.6 64.3,544.1 64.7,542.4 65.1,543.6 65.4,541.5 65.8,543.6 66.2,544.4 66.6,544.2 67.0,543.1 67.4,542.8 67.8,541.7 68.2,543.5 68.6,543.3 68.9,543.4 69.3,540.9 69.7,543.8 70.1,543.7 70.5,542.8 70.9,543.4 71.3,541.6 71.7,542.0 72.1,542.9 72.4,538.7 72.8,541.6 73.2,541.6 73.6,540.0 74.0,537.0 74.4,537.1 74.8,531.3 75.2,517.3 75.5,470.6 75.9,369.8 76.3,470.8 76.7,517.9 77.1,531.6 77.5,536.9 77.9,538.6 78.3,540.5 78.7,541.9 79.0,541.8 79.4,542.9 79.8,541.9 80.2,541.7 80.6,543.1 81.0,542.6 81.4,542.6 81.8,543.6 82.2,542.1 82.5,542.1 82.9,543.8 83.3,543.1 83.7,544.0 84.1,544.1 84.5,542.4 84.9,543.1 85.3,544.3 85.7,544.0 86.0,544.0 86.4,544.3 86.8,543.6 87.2,544.0 87.6,544.4 88.0,541.8 88.4,543.9 88.8,543.6 89.2,542.8 89.5,544.0 89.9,544.3 90.3,542.5 90.7,544.1 91.1,543.6 91.5,542.4 91.9,544.4 92.3,542.9 92.7,543.6 93.0,544.2 93.4,544.4 93.8,544.3 94.2,543.0 94.6,541.4 95.0,543.6 95.4,543.7 95.8,543.7 96.2,542.9 96.5,543.5 96.9,543.3 97.3,543.3 97.7,542.3 98.1,539.2 98.5,534.8 98.9,532.3 99.3,539.6 99.6,542.1 100.0,543.1 100.4,542.9 100.8,544.0 101.2,543.8 101.6,543.6 102.0,542.4 102.4,544.4 102.8,544.0 103.1,542.9 103.5,544.1 103.9,542.9 104.3,541.4 104.7,541.7 105.1,542.0 105.5,544.4 105.9,544.0 106.3,543.3 106.6,543.6 107.0,544.1 107.4,543.1 107.8,544.3 108.2,543.1 108.6,543.1 109.0,543.1 109.4,544.3 109.8,541.9 110.1,543.9 110.5,543.5 110.9,543.2 111.3,542.4 111.7,540.6 112.1,536.8 112.5,537.2 112.9,540.8 113.3,543.1 113.6,542.7 114.0,542.3 114.4,541.6 114.8,542.5 115.2,542.3 115.6,537.9 116.0,533.3 116.4,534.7 116.8,541.0 117.1,542.3 117.5,542.0 117.9,543.4 118.3,544.1 118.7,542.0 119.1,543.9 119.5,542.8 119.9,542.0 120.3,543.4 120.6,544.1 121.0,543.8 121.4,543.9 121.8,542.8 122.2,544.1 122.6,543.3 123.0,543.9 123.4,543.5 123.7,543.4 124.1,544.2 124.5,542.2 124.9,543.8 125.3,544.1 125.7,542.9 126.1,543.3 126.5,544.0 126.9,543.0 127.2,543.5 127.6,543.3 128.0,543.8 128.4,541.9 128.8,542.8 129.2,542.2 129.6,541.1 130.0,540.9 130.4,538.0 130.7,531.2 131.1,510.7 131.5,468.8 131.9,510.5 132.3,530.4 132.7,537.8 133.1,540.7 133.5,540.9 133.9,541.9 134.2,543.0 134.6,543.2 135.0,542.8 135.4,542.3 135.8,543.2 136.2,543.6 136.6,543.1 137.0,541.3 137.4,543.6 137.7,542.8 138.1,543.5 138.5,543.3 138.9,541.5 139.3,541.1 139.7,543.8 140.1,543.7 140.5,544.1 140.9,543.4 141.2,541.5 141.6,544.0 142.0,542.0 142.4,542.8 142.8,541.5 143.2,541.8 143.6,541.7 144.0,540.4 144.4,534.0 144.7,518.4 145.1,516.8 145.5,533.4 145.9,539.2 146.3,541.5 146.7,542.2 147.1,542.6 147.5,543.3 147.8,543.3 148.2,541.3 148.6,543.9 149.0,543.2 149.4,543.4 149.8,543.3 150.2,541.3 150.6,544.2 151.0,543.8 151.3,541.2 151.7,543.2 152.1,544.0 152.5,544.4 152.9,543.3 153.3,543.9 153.7,543.0 154.1,543.4 154.5,544.0 154.8,543.6 155.2,544.0 155.6,543.1 156.0,541.3 156.4,540.2 156.8,538.2 157.2,540.8 157.6,543.1 158.0,542.7 158.3,543.0 158.7,544.2 159.1,543.7 159.5,543.8 159.9,544.0 160.3,541.8 160.7,542.9 161.1,544.1 161.5,544.5 161.8,544.2 162.2,544.2 162.6,544.0 163.0,543.3 163.4,543.6 163.8,543.8 164.2,543.8 164.6,543.1 165.0,543.8 165.3,542.9 165.7,543.7 166.1,543.3 166.5,544.1 166.9,542.8 167.3,544.3 167.7,543.6 168.1,544.5 168.5,544.4 168.8,542.4 169.2,543.8 169.6,544.3 170.0,544.0 170.4,544.4 170.8,543.6 171.2,543.6 171.6,543.4 171.9,543.8 172.3,544.2 172.7,544.5 173.1,544.2 173.5,544.1 173.9,544.2 174.3,542.3 174.7,544.0 175.1,544.4 175.4,543.1 175.8,544.3 176.2,543.5 176.6,543.8 177.0,541.1 177.4,539.9 177.8,541.5 178.2,535.7 178.6,531.3 178.9,534.7 179.3,538.6 179.7,543.0 180.1,543.1 180.5,543.6 180.9,543.5 181.3,541.5 181.7,543.3 182.1,543.9 182.4,544.4 182.8,543.7 183.2,543.6 183.6,543.8 184.0,544.1 184.4,543.8 184.8,541.6 185.2,544.3 185.6,544.0 185.9,543.3 186.3,543.0 186.7,543.9 187.1,542.8 187.5,542.6 187.9,539.3 188.3,534.3 188.7,535.7 189.1,538.5 189.4,541.7 189.8,541.6 190.2,542.8 190.6,543.1 191.0,543.5 191.4,543.4 191.8,543.3 192.2,543.3 192.6,542.2 192.9,543.2 193.3,541.4 193.7,542.1 194.1,543.7 194.5,543.6 194.9,544.2 195.3,543.6 195.7,542.9 196.1,544.4 196.4,543.2 196.8,542.9 197.2,543.8 197.6,544.3 198.0,544.5 198.4,544.2 198.8,544.2 199.2,543.7 199.5,542.3 199.9,541.8 200.3,543.0 200.7,543.6 201.1,544.5 201.5,544.5 201.9,543.9 202.3,544.4 202.7,543.6 203.0,543.7 203.4,541.9 203.8,544.4 204.2,544.0 204.6,543.9 205.0,544.4 205.4,544.4 205.8,543.4 206.2,544.5 206.5,543.6 206.9,543.8 207.3,544.3 207.7,542.9 208.1,543.8 208.5,544.1 208.9,543.5 209.3,543.6 209.7,542.6 210.0,542.3 210.4,544.5 210.8,543.8 211.2,543.0 211.6,543.5 212.0,543.0 212.4,542.9 212.8,543.6 213.2,543.8 213.5,542.5 213.9,544.0 214.3,542.9 214.7,543.1 215.1,542.0 215.5,540.1 215.9,537.7 216.3,540.3 216.7,542.8 217.0,540.9 217.4,542.5 217.8,543.8 218.2,543.5 218.6,543.9 219.0,542.4 219.4,543.7 219.8,542.9 220.2,544.4 220.5,543.9 220.9,544.3 221.3,544.0 221.7,542.9 222.1,542.8 222.5,544.5 222.9,544.3 223.3,543.8 223.6,544.2 224.0,543.6 224.4,542.1 224.8,543.8 225.2,544.2 225.6,542.6 226.0,542.2 226.4,544.5 226.8,544.5 227.1,543.2 227.5,544.5 227.9,543.2 228.3,544.5 228.7,544.0 229.1,544.5 229.5,544.2 229.9,543.5 230.3,542.8 230.6,543.8 231.0,542.3 231.4,544.4 231.8,543.6 232.2,543.3 232.6,544.1 233.0,544.2 233.4,543.1 233.8,544.4 234.1,542.8 234.5,543.7 234.9,544.4 235.3,544.4 235.7,544.4 236.1,544.5 236.5,543.7 236.9,544.5 237.3,541.6 237.6,544.6 238.0,543.5 238.4,543.8 238.8,543.8 239.2,544.4 239.6,541.9 240.0,543.3 240.4,543.2 240.8,542.8 241.1,541.6 241.5,542.2 241.9,544.1 242.3,543.8 242.7,542.3 243.1,542.7 243.5,543.8 243.9,543.6 244.3,544.1 244.6,544.2 245.0,542.9 245.4,542.2 245.8,543.3 246.2,544.4 246.6,544.4 247.0,542.3 247.4,542.8 247.7,544.2 248.1,544.0 248.5,544.2 248.9,544.5 249.3,544.0 249.7,542.9 250.1,543.9 250.5,542.7 250.9,543.1 251.2,543.9 251.6,543.1 252.0,542.9 252.4,543.5 252.8,542.2 253.2,542.3 253.6,543.6 254.0,542.0 254.4,543.1 254.7,543.9 255.1,544.1 255.5,544.3 255.9,544.4 256.3,543.3 256.7,542.7 257.1,543.0 257.5,542.9 257.9,543.9 258.2,543.8 258.6,544.1 259.0,544.3 259.4,544.6 259.8,543.8 260.2,544.0 260.6,543.4 261.0,543.6 261.4,544.5 261.7,544.2 262.1,542.7 262.5,543.9 262.9,543.8 263.3,543.2 263.7,544.3 264.1,543.6 264.5,543.2 264.9,543.3 265.2,544.3 265.6,542.6 266.0,543.8 266.4,543.5 266.8,543.0 267.2,543.7 267.6,544.4 268.0,544.2 268.4,544.2 268.7,544.3 269.1,543.9 269.5,543.8 269.9,544.6 270.3,544.3 270.7,541.2 271.1,543.1 271.5,544.6 271.8,542.4 272.2,544.5 272.6,544.0 273.0,543.3 273.4,543.2 273.8,542.7 274.2,544.4 274.6,541.6 275.0,544.4 275.3,543.7 275.7,544.1 276.1,543.2 276.5,543.2 276.9,543.5 277.3,542.7 277.7,543.5 278.1,543.9 278.5,542.5 278.8,543.8 279.2,543.8 279.6,543.6 280.0,543.9 280.4,544.2 280.8,544.3 281.2,544.4 281.6,544.4 282.0,544.3 282.3,543.7 282.7,543.4 283.1,543.7 283.5,542.7 283.9,542.8 284.3,544.5 284.7,543.2 285.1,542.5 285.5,544.2 285.8,544.6 286.2,542.8 286.6,544.0 287.0,543.7 287.4,543.2 287.8,542.6 288.2,543.5 288.6,542.8 289.0,543.9 289.3,543.4 289.7,544.4 290.1,543.0 290.5,543.6 290.9,543.6 291.3,543.9 291.7,544.0 292.1,544.2 292.5,543.6 292.8,543.9 293.2,542.3 293.6,544.2 294.0,544.0 294.4,544.6 294.8,543.5 295.2,543.9 295.6,544.5 295.9,544.2 296.3,543.9 296.7,542.6 297.1,544.3 297.5,542.0 297.9,542.7 298.3,543.6 298.7,543.9 299.1,542.4 299.4,544.4 299.8,544.5 300.2,543.3 300.6,544.0 301.0,542.9 301.4,543.9 301.8,544.1 302.2,544.3 302.6,544.4 302.9,542.8 303.3,543.3 303.7,544.1 304.1,543.2 304.5,543.7 304.9,543.6 305.3,543.5 305.7,543.3 306.1,542.9 306.4,543.4 306.8,543.5 307.2,543.9 307.6,542.7 308.0,543.7 308.4,543.8 308.8,544.2 309.2,544.2 309.6,542.1 309.9,544.3 310.3,542.7 310.7,543.5 311.1,543.1 311.5,543.7 311.9,543.5 312.3,543.9 312.7,543.0 313.1,543.5 313.4,543.8 313.8,544.2 314.2,542.7 314.6,543.9 315.0,543.9 315.4,543.4 315.8,544.0 316.2,543.7 316.6,543.7 316.9,543.3 317.3,542.0 317.7,543.9 318.1,542.9 318.5,544.4 318.9,543.4 319.3,541.2 319.7,544.4 320.0,543.1 320.4,544.2 320.8,543.4 321.2,542.8 321.6,543.2 322.0,544.0 322.4,543.3 322.8,543.6 323.2,542.7 323.5,544.1 323.9,542.8 324.3,544.5 324.7,543.9 325.1,543.3 325.5,542.0 325.9,543.0 326.3,544.1 326.7,542.8 327.0,542.9 327.4,543.3 327.8,542.0 328.2,542.1 328.6,544.3 329.0,544.3 329.4,544.4 329.8,543.4 330.2,543.3 330.5,544.5 330.9,542.9 331.3,543.7 331.7,544.0 332.1,543.8" fill="none" stroke="#d5702f" stroke-width="2" stroke-linejoin="round"/>
<line x1="60.0" y1="543.6" x2="332.1" y2="543.6" stroke="#d5702f" stroke-width="3.4"/>
<line x1="42.5" y1="564.6" x2="314.6" y2="564.6" stroke="#f7b9dc" stroke-width="1.6"/>
<polyline points="42.5,562.6 42.9,560.9 43.3,561.5 43.7,562.4 44.1,562.5 44.4,560.7 44.8,562.2 45.2,562.4 45.6,561.4 46.0,561.3 46.4,562.2 46.8,561.2 47.2,561.3 47.6,562.5 47.9,562.4 48.3,559.6 48.7,561.7 49.1,561.4 49.5,561.8 49.9,560.7 50.3,561.7 50.7,562.5 51.1,562.1 51.4,562.5 51.8,562.0 52.2,561.6 52.6,561.9 53.0,561.6 53.4,561.7 53.8,561.6 54.2,561.4 54.6,561.5 54.9,559.6 55.3,561.2 55.7,560.6 56.1,559.1 56.5,558.2 56.9,555.0 57.3,550.1 57.7,539.1 58.0,501.0 58.4,425.0 58.8,499.5 59.2,538.9 59.6,549.5 60.0,555.6 60.4,556.9 60.8,558.8 61.2,559.3 61.5,559.5 61.9,561.5 62.3,561.7 62.7,559.0 63.1,562.0 63.5,561.8 63.9,561.6 64.3,561.9 64.7,562.1 65.0,562.4 65.4,560.5 65.8,562.3 66.2,562.1 66.6,560.9 67.0,561.5 67.4,561.5 67.8,560.5 68.2,561.1 68.5,561.4 68.9,561.5 69.3,560.5 69.7,562.3 70.1,560.5 70.5,562.2 70.9,561.1 71.3,560.9 71.7,562.5 72.0,560.5 72.4,561.9 72.8,562.0 73.2,562.6 73.6,562.8 74.0,562.2 74.4,562.5 74.8,562.9 75.2,562.2 75.5,562.7 75.9,561.4 76.3,562.8 76.7,560.4 77.1,562.2 77.5,560.4 77.9,562.7 78.3,561.2 78.7,562.4 79.0,561.4 79.4,560.4 79.8,561.2 80.2,560.6 80.6,559.4 81.0,554.7 81.4,552.3 81.8,557.9 82.1,559.6 82.5,561.8 82.9,561.2 83.3,559.9 83.7,561.0 84.1,559.7 84.5,561.4 84.9,562.7 85.3,562.6 85.6,562.7 86.0,562.5 86.4,561.2 86.8,561.6 87.2,560.8 87.6,562.0 88.0,561.8 88.4,560.8 88.8,562.6 89.1,562.6 89.5,561.6 89.9,561.5 90.3,562.1 90.7,562.4 91.1,561.9 91.5,562.3 91.9,561.7 92.3,561.8 92.6,562.7 93.0,559.2 93.4,562.3 93.8,560.8 94.2,559.2 94.6,557.6 95.0,557.1 95.4,560.5 95.8,560.4 96.1,560.9 96.5,560.8 96.9,560.5 97.3,561.8 97.7,560.7 98.1,559.7 98.5,556.3 98.9,557.0 99.3,559.9 99.6,561.9 100.0,560.9 100.4,561.8 100.8,561.5 101.2,560.9 101.6,561.3 102.0,561.9 102.4,561.5 102.8,561.7 103.1,562.3 103.5,561.3 103.9,562.5 104.3,562.1 104.7,562.2 105.1,561.7 105.5,562.8 105.9,562.3 106.2,562.7 106.6,562.5 107.0,562.4 107.4,560.1 107.8,562.1 108.2,561.8 108.6,561.8 109.0,560.7 109.4,561.8 109.7,562.2 110.1,562.1 110.5,561.2 110.9,561.7 111.3,560.9 111.7,560.0 112.1,559.0 112.5,558.9 112.9,558.0 113.2,553.4 113.6,539.1 114.0,509.4 114.4,537.7 114.8,552.8 115.2,557.9 115.6,559.2 116.0,561.2 116.4,559.3 116.7,560.5 117.1,560.9 117.5,562.2 117.9,562.0 118.3,562.3 118.7,562.1 119.1,562.0 119.5,562.6 119.9,562.5 120.2,560.8 120.6,562.7 121.0,560.4 121.4,560.5 121.8,560.6 122.2,561.4 122.6,562.6 123.0,562.5 123.4,562.5 123.7,561.7 124.1,562.5 124.5,561.7 124.9,560.3 125.3,561.4 125.7,561.1 126.1,558.5 126.5,559.1 126.9,553.7 127.2,536.4 127.6,536.3 128.0,551.4 128.4,558.5 128.8,560.8 129.2,558.5 129.6,562.1 130.0,562.2 130.3,560.7 130.7,562.4 131.1,562.5 131.5,562.3 131.9,562.0 132.3,560.9 132.7,561.6 133.1,560.7 133.5,562.4 133.8,562.8 134.2,561.8 134.6,561.7 135.0,561.1 135.4,562.2 135.8,561.5 136.2,561.1 136.6,561.7 137.0,561.4 137.3,561.9 137.7,561.7 138.1,560.8 138.5,560.5 138.9,558.4 139.3,557.2 139.7,559.5 140.1,561.5 140.5,559.3 140.8,561.4 141.2,562.1 141.6,560.6 142.0,562.0 142.4,561.4 142.8,560.6 143.2,562.6 143.6,562.1 144.0,562.3 144.3,560.6 144.7,561.8 145.1,561.6 145.5,561.6 145.9,560.8 146.3,561.4 146.7,562.6 147.1,562.0 147.5,562.0 147.8,562.9 148.2,561.5 148.6,562.2 149.0,561.9 149.4,560.6 149.8,560.7 150.2,562.3 150.6,562.0 151.0,560.6 151.3,562.1 151.7,562.5 152.1,561.6 152.5,561.1 152.9,561.8 153.3,560.4 153.7,562.6 154.1,562.5 154.4,560.8 154.8,562.2 155.2,562.3 155.6,560.9 156.0,562.1 156.4,562.5 156.8,561.4 157.2,561.7 157.6,562.0 157.9,562.6 158.3,562.7 158.7,560.6 159.1,562.2 159.5,561.0 159.9,560.0 160.3,559.7 160.7,557.9 161.1,553.1 161.4,555.7 161.8,559.6 162.2,560.8 162.6,561.3 163.0,560.9 163.4,562.4 163.8,562.4 164.2,562.0 164.6,562.0 164.9,561.1 165.3,561.8 165.7,561.6 166.1,561.6 166.5,562.0 166.9,562.6 167.3,562.5 167.7,561.6 168.1,562.8 168.4,561.4 168.8,561.6 169.2,562.4 169.6,561.6 170.0,560.8 170.4,559.9 170.8,557.5 171.2,557.8 171.6,556.8 171.9,561.0 172.3,561.3 172.7,561.5 173.1,561.8 173.5,562.4 173.9,562.6 174.3,561.6 174.7,560.9 175.1,562.2 175.4,561.6 175.8,560.0 176.2,562.9 176.6,562.6 177.0,562.7 177.4,562.2 177.8,562.6 178.2,562.8 178.6,560.6 178.9,562.1 179.3,560.0 179.7,562.2 180.1,562.6 180.5,562.7 180.9,561.9 181.3,562.2 181.7,560.7 182.0,560.8 182.4,562.9 182.8,561.4 183.2,561.0 183.6,560.6 184.0,562.4 184.4,561.9 184.8,562.3 185.2,562.7 185.5,559.2 185.9,562.2 186.3,562.9 186.7,562.6 187.1,562.9 187.5,561.8 187.9,560.8 188.3,561.4 188.7,562.8 189.0,562.6 189.4,562.5 189.8,561.1 190.2,560.8 190.6,560.1 191.0,562.3 191.4,562.7 191.8,562.9 192.2,560.0 192.5,562.5 192.9,562.0 193.3,561.2 193.7,561.8 194.1,562.0 194.5,562.2 194.9,562.9 195.3,562.2 195.7,562.1 196.0,562.7 196.4,562.6 196.8,561.8 197.2,562.1 197.6,561.4 198.0,560.1 198.4,558.2 198.8,557.4 199.2,560.9 199.5,561.7 199.9,559.6 200.3,560.9 200.7,560.8 201.1,561.9 201.5,561.8 201.9,560.5 202.3,561.3 202.7,562.0 203.0,561.5 203.4,561.9 203.8,562.6 204.2,562.3 204.6,561.7 205.0,562.5 205.4,562.5 205.8,562.9 206.1,562.6 206.5,562.6 206.9,561.4 207.3,561.4 207.7,561.0 208.1,562.8 208.5,561.7 208.9,562.4 209.3,562.2 209.6,562.4 210.0,562.0 210.4,562.3 210.8,561.7 211.2,561.9 211.6,560.5 212.0,560.4 212.4,560.7 212.8,560.5 213.1,562.1 213.5,562.6 213.9,562.2 214.3,562.0 214.7,562.8 215.1,563.0 215.5,562.2 215.9,560.5 216.3,560.1 216.6,560.1 217.0,563.0 217.4,562.1 217.8,562.4 218.2,562.7 218.6,562.7 219.0,562.8 219.4,562.0 219.8,562.8 220.1,563.0 220.5,562.6 220.9,561.9 221.3,562.9 221.7,562.9 222.1,562.2 222.5,561.7 222.9,562.5 223.3,561.8 223.6,562.2 224.0,562.5 224.4,562.4 224.8,562.7 225.2,562.1 225.6,561.1 226.0,562.8 226.4,562.2 226.8,562.5 227.1,562.7 227.5,561.9 227.9,562.1 228.3,562.9 228.7,562.2 229.1,561.5 229.5,561.7 229.9,562.4 230.2,561.5 230.6,562.9 231.0,562.6 231.4,562.9 231.8,561.7 232.2,562.9 232.6,562.6 233.0,562.6 233.4,561.9 233.7,561.6 234.1,560.9 234.5,562.8 234.9,563.0 235.3,561.8 235.7,562.2 236.1,562.3 236.5,562.3 236.9,562.1 237.2,560.8 237.6,562.5 238.0,562.4 238.4,561.8 238.8,561.8 239.2,561.5 239.6,563.0 240.0,561.6 240.4,562.5 240.7,561.6 241.1,561.6 241.5,562.0 241.9,560.7 242.3,562.1 242.7,561.2 243.1,561.5 243.5,561.6 243.9,560.6 244.2,562.0 244.6,561.6 245.0,562.6 245.4,561.5 245.8,562.9 246.2,562.7 246.6,562.9 247.0,562.1 247.4,562.8 247.7,562.8 248.1,562.5 248.5,563.0 248.9,560.7 249.3,562.4 249.7,562.9 250.1,562.7 250.5,562.2 250.9,561.3 251.2,562.8 251.6,561.6 252.0,562.3 252.4,562.8 252.8,562.4 253.2,561.6 253.6,561.5 254.0,562.4 254.3,562.8 254.7,561.5 255.1,562.9 255.5,562.9 255.9,562.4 256.3,562.4 256.7,562.6 257.1,560.9 257.5,561.6 257.8,562.0 258.2,561.7 258.6,563.0 259.0,562.2 259.4,561.6 259.8,560.4 260.2,562.0 260.6,562.2 261.0,562.2 261.3,561.7 261.7,560.6 262.1,561.2 262.5,562.8 262.9,561.9 263.3,562.9 263.7,561.9 264.1,559.8 264.5,561.6 264.8,562.1 265.2,560.4 265.6,562.0 266.0,560.8 266.4,561.6 266.8,562.5 267.2,560.2 267.6,562.2 268.0,563.0 268.3,561.7 268.7,562.2 269.1,562.1 269.5,562.5 269.9,562.9 270.3,561.6 270.7,562.4 271.1,562.3 271.5,562.9 271.8,560.9 272.2,562.6 272.6,561.4 273.0,562.3 273.4,562.1 273.8,560.6 274.2,562.8 274.6,562.8 275.0,562.4 275.3,562.2 275.7,562.6 276.1,562.1 276.5,560.3 276.9,562.3 277.3,562.3 277.7,562.3 278.1,561.7 278.4,562.8 278.8,562.0 279.2,562.7 279.6,562.4 280.0,561.3 280.4,561.8 280.8,561.8 281.2,561.6 281.6,562.6 281.9,562.8 282.3,561.6 282.7,562.3 283.1,562.8 283.5,562.5 283.9,562.5 284.3,562.7 284.7,561.8 285.1,562.8 285.4,562.1 285.8,561.7 286.2,562.2 286.6,562.1 287.0,561.5 287.4,561.4 287.8,562.2 288.2,562.4 288.6,561.1 288.9,561.5 289.3,562.6 289.7,561.9 290.1,562.1 290.5,562.7 290.9,562.1 291.3,562.7 291.7,561.5 292.1,561.8 292.4,561.9 292.8,561.8 293.2,562.9 293.6,562.4 294.0,562.3 294.4,561.6 294.8,562.5 295.2,562.2 295.6,559.4 295.9,562.4 296.3,560.9 296.7,562.7 297.1,562.6 297.5,562.1 297.9,562.0 298.3,561.9 298.7,562.5 299.1,561.1 299.4,562.2 299.8,562.3 300.2,562.4 300.6,561.0 301.0,562.5 301.4,562.4 301.8,562.1 302.2,561.9 302.5,561.5 302.9,561.2 303.3,561.4 303.7,562.3 304.1,561.6 304.5,562.9 304.9,560.9 305.3,562.9 305.7,561.6 306.0,562.6 306.4,561.1 306.8,562.4 307.2,562.7 307.6,562.9 308.0,562.9 308.4,562.8 308.8,561.3 309.2,559.8 309.5,563.0 309.9,561.8 310.3,562.4 310.7,562.5 311.1,560.5 311.5,562.0 311.9,562.2 312.3,561.7 312.7,562.6 313.0,562.8 313.4,562.0 313.8,561.8 314.2,562.0 314.6,562.2" fill="none" stroke="#e06db4" stroke-width="2" stroke-linejoin="round"/>
<line x1="42.5" y1="562.0" x2="314.6" y2="562.0" stroke="#e06db4" stroke-width="3.4"/>
<line x1="24.5" y1="583.2" x2="296.6" y2="583.2" stroke="#f09a9a" stroke-width="1.6"/>
<polyline points="24.5,580.8 24.9,581.0 25.3,579.2 25.7,580.2 26.1,581.5 26.4,581.1 26.8,580.5 27.2,580.5 27.6,580.2 28.0,581.0 28.4,581.2 28.8,580.5 29.2,580.9 29.6,580.1 29.9,579.5 30.3,580.6 30.7,581.2 31.1,579.0 31.5,580.2 31.9,581.0 32.3,581.3 32.7,580.0 33.1,580.7 33.4,579.4 33.8,580.2 34.2,576.9 34.6,580.1 35.0,579.6 35.4,580.8 35.8,580.4 36.2,579.6 36.6,579.5 36.9,579.1 37.3,578.2 37.7,577.1 38.1,578.2 38.5,576.3 38.9,574.6 39.3,570.7 39.7,559.4 40.0,525.2 40.4,455.3 40.8,524.9 41.2,559.3 41.6,571.0 42.0,574.0 42.4,577.1 42.8,577.7 43.2,579.5 43.5,577.8 43.9,579.9 44.3,580.1 44.7,579.8 45.1,578.6 45.5,580.7 45.9,580.5 46.3,581.1 46.7,579.7 47.0,580.1 47.4,579.6 47.8,577.9 48.2,580.3 48.6,580.5 49.0,580.8 49.4,580.5 49.8,579.9 50.2,581.3 50.5,581.1 50.9,580.7 51.3,580.3 51.7,580.2 52.1,579.1 52.5,578.3 52.9,581.2 53.3,581.2 53.7,579.6 54.0,580.3 54.4,580.8 54.8,579.7 55.2,580.4 55.6,581.5 56.0,580.6 56.4,580.1 56.8,581.1 57.2,580.8 57.5,579.9 57.9,581.5 58.3,581.3 58.7,579.7 59.1,577.3 59.5,580.6 59.9,580.3 60.3,580.9 60.7,580.9 61.0,580.9 61.4,581.2 61.8,580.5 62.2,580.2 62.6,579.4 63.0,574.8 63.4,576.1 63.8,577.8 64.1,579.2 64.5,580.9 64.9,581.2 65.3,581.2 65.7,580.3 66.1,581.2 66.5,580.3 66.9,581.0 67.3,580.6 67.6,579.3 68.0,579.9 68.4,580.5 68.8,580.9 69.2,580.3 69.6,581.1 70.0,579.0 70.4,580.6 70.8,578.8 71.1,579.9 71.5,579.9 71.9,580.9 72.3,581.5 72.7,581.1 73.1,579.2 73.5,580.4 73.9,580.3 74.3,578.9 74.6,580.9 75.0,580.2 75.4,578.4 75.8,578.5 76.2,576.0 76.6,575.0 77.0,575.0 77.4,577.8 77.8,580.2 78.1,579.9 78.5,580.0 78.9,578.6 79.3,578.6 79.7,580.2 80.1,579.3 80.5,575.1 80.9,575.4 81.3,578.7 81.6,579.5 82.0,580.8 82.4,580.6 82.8,581.1 83.2,580.2 83.6,581.1 84.0,581.1 84.4,581.2 84.8,579.8 85.1,579.8 85.5,580.9 85.9,580.7 86.3,581.1 86.7,580.5 87.1,581.5 87.5,581.1 87.9,580.9 88.2,580.5 88.6,580.4 89.0,579.8 89.4,580.6 89.8,580.9 90.2,581.1 90.6,580.8 91.0,579.1 91.4,580.5 91.7,581.0 92.1,580.5 92.5,579.9 92.9,579.4 93.3,578.6 93.7,578.4 94.1,579.4 94.5,576.5 94.9,577.1 95.2,574.3 95.6,561.7 96.0,538.4 96.4,562.1 96.8,573.4 97.2,576.7 97.6,578.5 98.0,579.6 98.4,579.9 98.7,580.2 99.1,580.5 99.5,580.7 99.9,580.7 100.3,579.7 100.7,581.2 101.1,581.1 101.5,579.2 101.9,580.0 102.2,580.2 102.6,580.4 103.0,581.0 103.4,581.0 103.8,581.1 104.2,580.3 104.6,579.2 105.0,580.6 105.4,579.7 105.7,580.0 106.1,580.2 106.5,580.2 106.9,579.9 107.3,580.7 107.7,580.0 108.1,579.5 108.5,577.5 108.9,572.8 109.2,558.7 109.6,559.9 110.0,572.9 110.4,576.5 110.8,578.7 111.2,578.6 111.6,579.2 112.0,580.4 112.3,580.4 112.7,579.4 113.1,581.0 113.5,580.8 113.9,580.4 114.3,579.9 114.7,580.5 115.1,581.2 115.5,580.6 115.8,580.8 116.2,580.5 116.6,580.9 117.0,580.9 117.4,579.4 117.8,579.7 118.2,581.3 118.6,579.5 119.0,581.1 119.3,581.3 119.7,580.9 120.1,580.4 120.5,580.4 120.9,578.4 121.3,576.5 121.7,579.3 122.1,580.3 122.5,580.6 122.8,580.5 123.2,580.0 123.6,581.3 124.0,580.6 124.4,579.8 124.8,580.8 125.2,581.5 125.6,581.5 126.0,580.5 126.3,579.7 126.7,581.5 127.1,581.2 127.5,580.5 127.9,580.2 128.3,580.7 128.7,581.3 129.1,579.9 129.5,580.1 129.8,580.9 130.2,578.9 130.6,581.6 131.0,581.0 131.4,581.1 131.8,580.4 132.2,581.5 132.6,579.2 133.0,581.5 133.3,581.0 133.7,580.3 134.1,581.1 134.5,579.8 134.9,580.8 135.3,581.4 135.7,579.2 136.1,580.6 136.4,580.6 136.8,579.7 137.2,580.9 137.6,580.2 138.0,580.9 138.4,580.9 138.8,581.2 139.2,581.5 139.6,581.1 139.9,580.8 140.3,579.3 140.7,581.3 141.1,579.7 141.5,579.4 141.9,580.5 142.3,579.3 142.7,578.0 143.1,574.5 143.4,577.9 143.8,579.5 144.2,580.4 144.6,580.9 145.0,580.7 145.4,580.9 145.8,579.6 146.2,581.4 146.6,580.5 146.9,580.1 147.3,581.4 147.7,580.4 148.1,581.0 148.5,580.7 148.9,579.0 149.3,580.5 149.7,580.2 150.1,580.3 150.4,579.4 150.8,579.3 151.2,580.5 151.6,580.0 152.0,578.8 152.4,578.0 152.8,575.6 153.2,576.2 153.6,576.8 153.9,579.6 154.3,580.2 154.7,580.6 155.1,580.6 155.5,580.4 155.9,581.0 156.3,580.8 156.7,579.6 157.1,580.9 157.4,581.3 157.8,580.9 158.2,580.3 158.6,581.1 159.0,581.0 159.4,581.4 159.8,581.5 160.2,579.5 160.6,581.5 160.9,579.9 161.3,580.6 161.7,580.0 162.1,581.4 162.5,580.5 162.9,580.7 163.3,580.8 163.7,581.3 164.0,581.4 164.4,581.5 164.8,580.0 165.2,580.7 165.6,579.5 166.0,579.5 166.4,581.0 166.8,580.8 167.2,581.6 167.5,580.9 167.9,579.5 168.3,581.2 168.7,581.0 169.1,580.7 169.5,580.9 169.9,579.9 170.3,580.0 170.7,579.2 171.0,580.5 171.4,579.7 171.8,580.6 172.2,579.8 172.6,581.2 173.0,580.9 173.4,581.1 173.8,580.6 174.2,580.5 174.5,580.4 174.9,580.0 175.3,579.8 175.7,581.5 176.1,581.2 176.5,579.9 176.9,580.8 177.3,580.7 177.7,579.7 178.0,578.9 178.4,579.7 178.8,579.8 179.2,580.9 179.6,579.9 180.0,578.6 180.4,578.1 180.8,579.3 181.2,580.2 181.5,580.3 181.9,578.1 182.3,580.2 182.7,581.1 183.1,581.3 183.5,580.7 183.9,581.2 184.3,581.5 184.7,581.4 185.0,580.2 185.4,579.5 185.8,581.3 186.2,580.3 186.6,581.2 187.0,579.8 187.4,580.3 187.8,581.5 188.1,580.9 188.5,580.4 188.9,580.4 189.3,579.6 189.7,581.0 190.1,581.2 190.5,581.2 190.9,580.3 191.3,580.5 191.6,581.1 192.0,581.4 192.4,581.1 192.8,581.0 193.2,580.3 193.6,578.9 194.0,581.1 194.4,579.3 194.8,579.1 195.1,579.9 195.5,581.2 195.9,581.4 196.3,581.2 196.7,580.8 197.1,580.1 197.5,581.1 197.9,580.0 198.3,580.2 198.6,581.2 199.0,581.0 199.4,580.8 199.8,580.2 200.2,579.4 200.6,580.8 201.0,581.5 201.4,581.0 201.8,580.4 202.1,580.0 202.5,580.7 202.9,580.5 203.3,580.4 203.7,580.3 204.1,580.8 204.5,580.4 204.9,581.1 205.3,581.0 205.6,581.1 206.0,580.4 206.4,580.6 206.8,579.7 207.2,580.0 207.6,581.6 208.0,581.0 208.4,580.7 208.8,581.4 209.1,580.0 209.5,581.5 209.9,581.4 210.3,580.0 210.7,580.5 211.1,580.6 211.5,581.2 211.9,581.3 212.2,581.2 212.6,581.3 213.0,579.3 213.4,580.7 213.8,579.7 214.2,581.0 214.6,581.6 215.0,581.0 215.4,579.6 215.7,581.5 216.1,579.7 216.5,580.2 216.9,581.0 217.3,581.1 217.7,580.0 218.1,581.2 218.5,581.5 218.9,580.9 219.2,581.5 219.6,581.2 220.0,581.5 220.4,580.4 220.8,579.9 221.2,581.4 221.6,581.4 222.0,580.6 222.4,581.2 222.7,580.3 223.1,580.3 223.5,580.5 223.9,580.5 224.3,580.4 224.7,579.4 225.1,580.3 225.5,580.6 225.9,579.8 226.2,580.4 226.6,579.8 227.0,580.6 227.4,579.5 227.8,580.7 228.2,580.8 228.6,581.4 229.0,578.6 229.4,581.5 229.7,581.2 230.1,581.1 230.5,581.3 230.9,579.5 231.3,580.9 231.7,579.4 232.1,579.7 232.5,581.2 232.9,580.7 233.2,581.1 233.6,580.3 234.0,580.7 234.4,580.2 234.8,581.4 235.2,581.4 235.6,579.9 236.0,580.2 236.3,581.0 236.7,580.1 237.1,581.1 237.5,579.8 237.9,581.1 238.3,581.1 238.7,580.5 239.1,580.5 239.5,580.8 239.8,579.5 240.2,581.4 240.6,581.5 241.0,581.2 241.4,581.0 241.8,579.1 242.2,581.6 242.6,581.5 243.0,581.3 243.3,580.6 243.7,579.5 244.1,581.1 244.5,580.5 244.9,580.9 245.3,581.5 245.7,580.9 246.1,580.6 246.5,580.4 246.8,580.4 247.2,580.6 247.6,581.1 248.0,581.0 248.4,579.0 248.8,581.3 249.2,581.4 249.6,581.0 250.0,580.6 250.3,580.0 250.7,581.3 251.1,580.7 251.5,580.8 251.9,580.0 252.3,581.5 252.7,581.5 253.1,581.4 253.5,578.1 253.8,580.7 254.2,580.9 254.6,581.4 255.0,581.1 255.4,580.7 255.8,581.4 256.2,580.1 256.6,581.5 257.0,580.0 257.3,578.5 257.7,581.0 258.1,581.3 258.5,581.6 258.9,579.6 259.3,580.8 259.7,580.1 260.1,580.0 260.4,580.4 260.8,580.3 261.2,580.9 261.6,580.8 262.0,580.9 262.4,579.2 262.8,579.8 263.2,580.9 263.6,580.9 263.9,579.6 264.3,581.5 264.7,580.1 265.1,580.8 265.5,580.7 265.9,580.4 266.3,581.2 266.7,580.5 267.1,581.2 267.4,579.9 267.8,578.3 268.2,580.4 268.6,581.5 269.0,581.6 269.4,580.7 269.8,581.2 270.2,581.1 270.6,579.1 270.9,581.5 271.3,580.3 271.7,581.2 272.1,580.6 272.5,581.2 272.9,581.4 273.3,581.2 273.7,581.3 274.1,580.6 274.4,581.4 274.8,580.0 275.2,580.5 275.6,581.2 276.0,580.1 276.4,580.8 276.8,580.9 277.2,581.2 277.6,578.4 277.9,579.8 278.3,580.3 278.7,579.9 279.1,579.3 279.5,580.5 279.9,580.3 280.3,581.0 280.7,580.8 281.1,581.0 281.4,581.6 281.8,581.3 282.2,581.1 282.6,580.8 283.0,581.4 283.4,580.8 283.8,580.9 284.2,581.1 284.5,579.6 284.9,580.1 285.3,581.1 285.7,580.9 286.1,581.3 286.5,578.4 286.9,581.2 287.3,581.3 287.7,580.7 288.0,579.2 288.4,581.2 288.8,581.0 289.2,581.0 289.6,580.2 290.0,580.3 290.4,580.3 290.8,580.8 291.2,581.2 291.5,580.6 291.9,579.8 292.3,580.8 292.7,580.6 293.1,581.1 293.5,580.6 293.9,580.4 294.3,581.1 294.7,579.9 295.0,581.1 295.4,580.9 295.8,580.3 296.2,580.8 296.6,581.0" fill="none" stroke="#9a1f1c" stroke-width="2" stroke-linejoin="round"/>
<line x1="24.5" y1="580.6" x2="296.6" y2="580.6" stroke="#9a1f1c" stroke-width="3.4"/>
<line x1="54.1" y1="591.2" x2="57.9" y2="587.4" stroke="#111" stroke-width="1.3"/>
<line x1="92.9" y1="591.2" x2="96.7" y2="587.4" stroke="#111" stroke-width="1.3"/>
<line x1="131.8" y1="591.2" x2="135.6" y2="587.4" stroke="#111" stroke-width="1.3"/>
<line x1="170.7" y1="591.2" x2="174.5" y2="587.4" stroke="#111" stroke-width="1.3"/>
<line x1="209.6" y1="591.2" x2="213.4" y2="587.4" stroke="#111" stroke-width="1.3"/>
<line x1="248.4" y1="591.2" x2="252.2" y2="587.4" stroke="#111" stroke-width="1.3"/>
<text x="10.7" y="611.3" font-size="17.5" text-anchor="middle" fill="#111">10</text>
<text x="52.1" y="611.3" font-size="17.5" text-anchor="middle" fill="#111">20</text>
<text x="90.9" y="611.3" font-size="17.5" text-anchor="middle" fill="#111">30</text>
<text x="129.8" y="611.3" font-size="17.5" text-anchor="middle" fill="#111">40</text>
<text x="168.7" y="611.3" font-size="17.5" text-anchor="middle" fill="#111">50</text>
<text x="207.6" y="611.3" font-size="17.5" text-anchor="middle" fill="#111">60</text>
<text x="246.4" y="611.3" font-size="17.5" text-anchor="middle" fill="#111">70</text>
<text x="285.3" y="611.3" font-size="17.5" text-anchor="middle" fill="#111">80</text>
<text x="143.7" y="631" font-size="17.5" text-anchor="middle" fill="#111">2 Theta (angle)</text>
<text x="6.2" y="329.3" class="b" font-size="16.5" fill="#111">(c)</text>
<text x="96.8" y="323.7" class="b" font-size="17.4" fill="#111">(110)</text>
<text x="154" y="440" class="b" font-size="17.4" fill="#111">(220)</text>
<text x="162" y="490.5" class="b" font-size="17.4" fill="#111">(310)</text>
<line x1="132.5" y1="363.7" x2="113.5" y2="363.7" stroke="#1b2340" stroke-width="1.5"/><polygon points="104.5,363.7 114.5,360.5 114.5,366.9" fill="#1b2340"/>
<line x1="132.5" y1="377.7" x2="91" y2="377.7" stroke="#d5702f" stroke-width="1.5"/><polygon points="82,377.7 92,374.5 92,380.9" fill="#d5702f"/>
<line x1="132.5" y1="395.5" x2="73.2" y2="395.5" stroke="#e77ac0" stroke-width="1.5"/><polygon points="64.2,395.5 74.2,392.3 74.2,398.7" fill="#e77ac0"/>
<line x1="132.5" y1="411.3" x2="55.6" y2="411.3" stroke="#9a1f1c" stroke-width="1.5"/><polygon points="46.6,411.3 56.6,408.1 56.6,414.5" fill="#9a1f1c"/>
<text x="135.4" y="367.5" class="b" font-size="13" fill="#111">Perovskite</text>
<text x="135.4" y="384" class="b" font-size="13" fill="#111">Perovskite/TTC</text>
<text x="135.4" y="401.3" class="b" font-size="13" fill="#111">Perovskite/C<tspan dy="3.2" font-size="10">60</tspan><tspan dy="-3.2" font-size="0.1"> </tspan></text>
<text x="135.4" y="418.8" class="b" font-size="13" fill="#111">Perovskite/TTC/C<tspan dy="3.2" font-size="10">60</tspan><tspan dy="-3.2" font-size="0.1"> </tspan></text>
<rect x="261.3" y="386.4" width="84.1" height="15.2" fill="url(#c60c)"/>
<rect x="261.3" y="401.3" width="84.1" height="15.8" fill="url(#ttcc)"/>
<rect x="261.3" y="416.8" width="84.1" height="19.5" fill="url(#pvkc)"/>
<rect x="261.3" y="436" width="84.1" height="12.6" fill="url(#ptaac)"/>
<rect x="261.3" y="448.6" width="84.1" height="13.4" fill="url(#itoc)"/>
<text x="303.35" y="397" class="b" font-size="11.1" text-anchor="middle" fill="#1a1208">C<tspan dy="2.6" font-size="8.4">60</tspan><tspan dy="-2.6" font-size="0.1"> </tspan></text>
<text x="303.35" y="413" class="b" font-size="11.1" text-anchor="middle" fill="#1a1208">TTC</text>
<text x="303.35" y="430" class="b" font-size="11.1" text-anchor="middle" fill="#3c0a0a">CH<tspan dy="2.6" font-size="8.4">3</tspan><tspan dy="-2.6" font-size="0.1"> </tspan>NH<tspan dy="2.6" font-size="8.4">3</tspan><tspan dy="-2.6" font-size="0.1"> </tspan>PbI<tspan dy="2.6" font-size="8.4">3</tspan><tspan dy="-2.6" font-size="0.1"> </tspan></text>
<text x="303.35" y="446.3" class="b" font-size="11.1" text-anchor="middle" fill="#2a0c06">PTAA: F4-TCNQ</text>
<text x="303.35" y="459.4" class="b" font-size="11.1" text-anchor="middle" fill="#101820">ITO</text>
<path d="M297.7,355 L308,355 L308,369.8 L313,369.8 L303,380.4 L293.8,369.8 L297.7,369.8 Z" fill="#f4a0a8" stroke="#f4a0a8" stroke-width="3.5" stroke-linejoin="round" filter="url(#blur2)" opacity="0.9"/>
<path d="M297.7,355 L308,355 L308,369.8 L313,369.8 L303,380.4 L293.8,369.8 L297.7,369.8 Z" fill="url(#xrayg)" stroke="#7a2420" stroke-width="0.8"/>
<text x="319.3" y="370.5" class="b" font-size="10.4" fill="#111">X-ray</text>
</g>
<g id="panel-d">
<clipPath id="clipd"><rect x="436.4" y="355.2" width="334.1" height="248.6"/></clipPath>
<g clip-path="url(#clipd)">
<polyline points="429.2,378.8 434.2,386.8 444.9,402.3 455.6,417.3 466.4,429.9 477.1,440.4 487.8,451.6 498.6,460.4 509.3,469.5 520.0,477.7 530.7,484.8 541.5,492.4 552.2,498.2 562.9,503.6 573.7,508.1 584.4,512.9 595.1,516.7 605.9,519.6 616.6,522.7 627.3,525.3 638.0,527.2 648.8,528.6 659.5,530.5 670.2,531.1 681.0,531.8 691.7,533.3 702.4,536.9 713.2,547.2 723.9,562.2 734.6,575.6 745.3,584.0 756.1,588.8 766.8,591.6 772.8,592.8" fill="none" stroke="#1b2340" stroke-width="1.4"/><circle cx="434.2" cy="386.8" r="3.9" fill="#1b2340" stroke="#1b2340" stroke-width="0.9"/><circle cx="444.9" cy="402.3" r="3.9" fill="#1b2340" stroke="#1b2340" stroke-width="0.9"/><circle cx="455.6" cy="417.3" r="3.9" fill="#1b2340" stroke="#1b2340" stroke-width="0.9"/><circle cx="466.4" cy="429.9" r="3.9" fill="#1b2340" stroke="#1b2340" stroke-width="0.9"/><circle cx="477.1" cy="440.4" r="3.9" fill="#1b2340" stroke="#1b2340" stroke-width="0.9"/><circle cx="487.8" cy="451.6" r="3.9" fill="#1b2340" stroke="#1b2340" stroke-width="0.9"/><circle cx="498.6" cy="460.4" r="3.9" fill="#1b2340" stroke="#1b2340" stroke-width="0.9"/><circle cx="509.3" cy="469.5" r="3.9" fill="#1b2340" stroke="#1b2340" stroke-width="0.9"/><circle cx="520.0" cy="477.7" r="3.9" fill="#1b2340" stroke="#1b2340" stroke-width="0.9"/><circle cx="530.7" cy="484.8" r="3.9" fill="#1b2340" stroke="#1b2340" stroke-width="0.9"/><circle cx="541.5" cy="492.4" r="3.9" fill="#1b2340" stroke="#1b2340" stroke-width="0.9"/><circle cx="552.2" cy="498.2" r="3.9" fill="#1b2340" stroke="#1b2340" stroke-width="0.9"/><circle cx="562.9" cy="503.6" r="3.9" fill="#1b2340" stroke="#1b2340" stroke-width="0.9"/><circle cx="573.7" cy="508.1" r="3.9" fill="#1b2340" stroke="#1b2340" stroke-width="0.9"/><circle cx="584.4" cy="512.9" r="3.9" fill="#1b2340" stroke="#1b2340" stroke-width="0.9"/><circle cx="595.1" cy="516.7" r="3.9" fill="#1b2340" stroke="#1b2340" stroke-width="0.9"/><circle cx="605.9" cy="519.6" r="3.9" fill="#1b2340" stroke="#1b2340" stroke-width="0.9"/><circle cx="616.6" cy="522.7" r="3.9" fill="#1b2340" stroke="#1b2340" stroke-width="0.9"/><circle cx="627.3" cy="525.3" r="3.9" fill="#1b2340" stroke="#1b2340" stroke-width="0.9"/><circle cx="638.0" cy="527.2" r="3.9" fill="#1b2340" stroke="#1b2340" stroke-width="0.9"/><circle cx="648.8" cy="528.6" r="3.9" fill="#1b2340" stroke="#1b2340" stroke-width="0.9"/><circle cx="659.5" cy="530.5" r="3.9" fill="#1b2340" stroke="#1b2340" stroke-width="0.9"/><circle cx="670.2" cy="531.1" r="3.9" fill="#1b2340" stroke="#1b2340" stroke-width="0.9"/><circle cx="681.0" cy="531.8" r="3.9" fill="#1b2340" stroke="#1b2340" stroke-width="0.9"/><circle cx="691.7" cy="533.3" r="3.9" fill="#1b2340" stroke="#1b2340" stroke-width="0.9"/><circle cx="702.4" cy="536.9" r="3.9" fill="#1b2340" stroke="#1b2340" stroke-width="0.9"/><circle cx="713.2" cy="547.2" r="3.9" fill="#1b2340" stroke="#1b2340" stroke-width="0.9"/><circle cx="723.9" cy="562.2" r="3.9" fill="#1b2340" stroke="#1b2340" stroke-width="0.9"/><circle cx="734.6" cy="575.6" r="3.9" fill="#1b2340" stroke="#1b2340" stroke-width="0.9"/><circle cx="745.3" cy="584.0" r="3.9" fill="#1b2340" stroke="#1b2340" stroke-width="0.9"/><circle cx="756.1" cy="588.8" r="3.9" fill="#1b2340" stroke="#1b2340" stroke-width="0.9"/><circle cx="766.8" cy="591.6" r="3.9" fill="#1b2340" stroke="#1b2340" stroke-width="0.9"/>
<polyline points="429.3,375.5 434.3,383.5 445.0,399.1 455.7,414.4 466.5,427.2 477.2,437.9 487.9,449.2 498.7,458.1 509.4,467.3 520.1,475.7 530.8,482.9 541.6,490.6 552.3,496.4 563.0,502.0 573.8,506.5 584.5,511.4 595.2,515.2 605.9,518.2 616.7,521.3 627.4,524.0 638.1,525.9 648.9,527.3 659.6,529.2 670.3,529.9 681.1,530.6 691.8,532.0 702.5,535.7 713.2,546.1 724.0,561.4 734.7,575.0 745.4,583.5 756.2,588.4 766.9,591.2 772.9,592.4" fill="none" stroke="#e8854a" stroke-width="1.4"/><circle cx="434.3" cy="383.5" r="4" fill="#f0865c" stroke="#f0865c" stroke-width="0.9"/><circle cx="445.0" cy="399.1" r="4" fill="#f0865c" stroke="#f0865c" stroke-width="0.9"/><circle cx="455.7" cy="414.4" r="4" fill="#f0865c" stroke="#f0865c" stroke-width="0.9"/><circle cx="466.5" cy="427.2" r="4" fill="#f0865c" stroke="#f0865c" stroke-width="0.9"/><circle cx="477.2" cy="437.9" r="4" fill="#f0865c" stroke="#f0865c" stroke-width="0.9"/><circle cx="487.9" cy="449.2" r="4" fill="#f0865c" stroke="#f0865c" stroke-width="0.9"/><circle cx="498.7" cy="458.1" r="4" fill="#f0865c" stroke="#f0865c" stroke-width="0.9"/><circle cx="509.4" cy="467.3" r="4" fill="#f0865c" stroke="#f0865c" stroke-width="0.9"/><circle cx="520.1" cy="475.7" r="4" fill="#f0865c" stroke="#f0865c" stroke-width="0.9"/><circle cx="530.8" cy="482.9" r="4" fill="#f0865c" stroke="#f0865c" stroke-width="0.9"/><circle cx="541.6" cy="490.6" r="4" fill="#f0865c" stroke="#f0865c" stroke-width="0.9"/><circle cx="552.3" cy="496.4" r="4" fill="#f0865c" stroke="#f0865c" stroke-width="0.9"/><circle cx="563.0" cy="502.0" r="4" fill="#f0865c" stroke="#f0865c" stroke-width="0.9"/><circle cx="573.8" cy="506.5" r="4" fill="#f0865c" stroke="#f0865c" stroke-width="0.9"/><circle cx="584.5" cy="511.4" r="4" fill="#f0865c" stroke="#f0865c" stroke-width="0.9"/><circle cx="595.2" cy="515.2" r="4" fill="#f0865c" stroke="#f0865c" stroke-width="0.9"/><circle cx="605.9" cy="518.2" r="4" fill="#f0865c" stroke="#f0865c" stroke-width="0.9"/><circle cx="616.7" cy="521.3" r="4" fill="#f0865c" stroke="#f0865c" stroke-width="0.9"/><circle cx="627.4" cy="524.0" r="4" fill="#f0865c" stroke="#f0865c" stroke-width="0.9"/><circle cx="638.1" cy="525.9" r="4" fill="#f0865c" stroke="#f0865c" stroke-width="0.9"/><circle cx="648.9" cy="527.3" r="4" fill="#f0865c" stroke="#f0865c" stroke-width="0.9"/><circle cx="659.6" cy="529.2" r="4" fill="#f0865c" stroke="#f0865c" stroke-width="0.9"/><circle cx="670.3" cy="529.9" r="4" fill="#f0865c" stroke="#f0865c" stroke-width="0.9"/><circle cx="681.1" cy="530.6" r="4" fill="#f0865c" stroke="#f0865c" stroke-width="0.9"/><circle cx="691.8" cy="532.0" r="4" fill="#f0865c" stroke="#f0865c" stroke-width="0.9"/><circle cx="702.5" cy="535.7" r="4" fill="#f0865c" stroke="#f0865c" stroke-width="0.9"/><circle cx="713.2" cy="546.1" r="4" fill="#f0865c" stroke="#f0865c" stroke-width="0.9"/><circle cx="724.0" cy="561.4" r="4" fill="#f0865c" stroke="#f0865c" stroke-width="0.9"/><circle cx="734.7" cy="575.0" r="4" fill="#f0865c" stroke="#f0865c" stroke-width="0.9"/><circle cx="745.4" cy="583.5" r="4" fill="#f0865c" stroke="#f0865c" stroke-width="0.9"/><circle cx="756.2" cy="588.4" r="4" fill="#f0865c" stroke="#f0865c" stroke-width="0.9"/><circle cx="766.9" cy="591.2" r="4" fill="#f0865c" stroke="#f0865c" stroke-width="0.9"/>
<polyline points="429.5,374.3 434.5,382.3 445.2,398.0 455.9,413.4 466.7,426.2 477.4,436.9 488.1,448.4 498.9,457.3 509.6,466.6 520.3,475.0 531.0,482.2 541.8,489.9 552.5,495.8 563.2,501.4 574.0,506.0 584.7,510.9 595.4,514.7 606.1,517.7 616.9,520.8 627.6,523.5 638.3,525.4 649.1,526.8 659.8,528.8 670.5,529.5 681.3,530.1 692.0,531.6 702.7,535.3 713.5,545.8 724.2,561.1 734.9,574.8 745.6,583.3 756.4,588.2 767.1,591.1 773.1,592.3" fill="none" stroke="#f7a6c4" stroke-width="2.2"/><circle cx="434.5" cy="382.3" r="4.1" fill="#f7827c" stroke="#f9a0a0" stroke-width="0.9"/><circle cx="445.2" cy="398.0" r="4.1" fill="#f7827c" stroke="#f9a0a0" stroke-width="0.9"/><circle cx="455.9" cy="413.4" r="4.1" fill="#f7827c" stroke="#f9a0a0" stroke-width="0.9"/><circle cx="466.7" cy="426.2" r="4.1" fill="#f7827c" stroke="#f9a0a0" stroke-width="0.9"/><circle cx="477.4" cy="436.9" r="4.1" fill="#f7827c" stroke="#f9a0a0" stroke-width="0.9"/><circle cx="488.1" cy="448.4" r="4.1" fill="#f7827c" stroke="#f9a0a0" stroke-width="0.9"/><circle cx="498.9" cy="457.3" r="4.1" fill="#f7827c" stroke="#f9a0a0" stroke-width="0.9"/><circle cx="509.6" cy="466.6" r="4.1" fill="#f7827c" stroke="#f9a0a0" stroke-width="0.9"/><circle cx="520.3" cy="475.0" r="4.1" fill="#f7827c" stroke="#f9a0a0" stroke-width="0.9"/><circle cx="531.0" cy="482.2" r="4.1" fill="#f7827c" stroke="#f9a0a0" stroke-width="0.9"/><circle cx="541.8" cy="489.9" r="4.1" fill="#f7827c" stroke="#f9a0a0" stroke-width="0.9"/><circle cx="552.5" cy="495.8" r="4.1" fill="#f7827c" stroke="#f9a0a0" stroke-width="0.9"/><circle cx="563.2" cy="501.4" r="4.1" fill="#f7827c" stroke="#f9a0a0" stroke-width="0.9"/><circle cx="574.0" cy="506.0" r="4.1" fill="#f7827c" stroke="#f9a0a0" stroke-width="0.9"/><circle cx="584.7" cy="510.9" r="4.1" fill="#f7827c" stroke="#f9a0a0" stroke-width="0.9"/><circle cx="595.4" cy="514.7" r="4.1" fill="#f7827c" stroke="#f9a0a0" stroke-width="0.9"/><circle cx="606.1" cy="517.7" r="4.1" fill="#f7827c" stroke="#f9a0a0" stroke-width="0.9"/><circle cx="616.9" cy="520.8" r="4.1" fill="#f7827c" stroke="#f9a0a0" stroke-width="0.9"/><circle cx="627.6" cy="523.5" r="4.1" fill="#f7827c" stroke="#f9a0a0" stroke-width="0.9"/><circle cx="638.3" cy="525.4" r="4.1" fill="#f7827c" stroke="#f9a0a0" stroke-width="0.9"/><circle cx="649.1" cy="526.8" r="4.1" fill="#f7827c" stroke="#f9a0a0" stroke-width="0.9"/><circle cx="659.8" cy="528.8" r="4.1" fill="#f7827c" stroke="#f9a0a0" stroke-width="0.9"/><circle cx="670.5" cy="529.5" r="4.1" fill="#f7827c" stroke="#f9a0a0" stroke-width="0.9"/><circle cx="681.3" cy="530.1" r="4.1" fill="#f7827c" stroke="#f9a0a0" stroke-width="0.9"/><circle cx="692.0" cy="531.6" r="4.1" fill="#f7827c" stroke="#f9a0a0" stroke-width="0.9"/><circle cx="702.7" cy="535.3" r="4.1" fill="#f7827c" stroke="#f9a0a0" stroke-width="0.9"/><circle cx="713.5" cy="545.8" r="4.1" fill="#f7827c" stroke="#f9a0a0" stroke-width="0.9"/><circle cx="724.2" cy="561.1" r="4.1" fill="#f7827c" stroke="#f9a0a0" stroke-width="0.9"/><circle cx="734.9" cy="574.8" r="4.1" fill="#f7827c" stroke="#f9a0a0" stroke-width="0.9"/><circle cx="745.6" cy="583.3" r="4.1" fill="#f7827c" stroke="#f9a0a0" stroke-width="0.9"/><circle cx="756.4" cy="588.2" r="4.1" fill="#f7827c" stroke="#f9a0a0" stroke-width="0.9"/><circle cx="767.1" cy="591.1" r="4.1" fill="#f7827c" stroke="#f9a0a0" stroke-width="0.9"/>
<polyline points="429.5,369.0 434.5,377.0 445.2,393.1 455.9,408.8 466.7,421.9 477.4,432.9 488.1,444.6 498.9,453.7 509.6,463.2 520.3,471.8 531.0,479.2 541.8,487.1 552.5,493.1 563.2,498.8 574.0,503.5 584.7,508.5 595.4,512.4 606.1,515.5 616.9,518.7 627.6,521.4 638.3,523.4 649.1,524.8 659.8,526.8 670.5,527.5 681.3,528.2 692.0,529.7 702.7,533.5 713.5,544.2 724.2,559.9 734.9,573.9 745.6,582.6 756.4,587.6 767.1,590.5 773.1,591.7" fill="none" stroke="#9e2020" stroke-width="1.5"/><circle cx="434.5" cy="377.0" r="4.1" fill="#c22424" stroke="#e8646c" stroke-width="0.9"/><circle cx="445.2" cy="393.1" r="4.1" fill="#c22424" stroke="#e8646c" stroke-width="0.9"/><circle cx="455.9" cy="408.8" r="4.1" fill="#c22424" stroke="#e8646c" stroke-width="0.9"/><circle cx="466.7" cy="421.9" r="4.1" fill="#c22424" stroke="#e8646c" stroke-width="0.9"/><circle cx="477.4" cy="432.9" r="4.1" fill="#c22424" stroke="#e8646c" stroke-width="0.9"/><circle cx="488.1" cy="444.6" r="4.1" fill="#c22424" stroke="#e8646c" stroke-width="0.9"/><circle cx="498.9" cy="453.7" r="4.1" fill="#c22424" stroke="#e8646c" stroke-width="0.9"/><circle cx="509.6" cy="463.2" r="4.1" fill="#c22424" stroke="#e8646c" stroke-width="0.9"/><circle cx="520.3" cy="471.8" r="4.1" fill="#c22424" stroke="#e8646c" stroke-width="0.9"/><circle cx="531.0" cy="479.2" r="4.1" fill="#c22424" stroke="#e8646c" stroke-width="0.9"/><circle cx="541.8" cy="487.1" r="4.1" fill="#c22424" stroke="#e8646c" stroke-width="0.9"/><circle cx="552.5" cy="493.1" r="4.1" fill="#c22424" stroke="#e8646c" stroke-width="0.9"/><circle cx="563.2" cy="498.8" r="4.1" fill="#c22424" stroke="#e8646c" stroke-width="0.9"/><circle cx="574.0" cy="503.5" r="4.1" fill="#c22424" stroke="#e8646c" stroke-width="0.9"/><circle cx="584.7" cy="508.5" r="4.1" fill="#c22424" stroke="#e8646c" stroke-width="0.9"/><circle cx="595.4" cy="512.4" r="4.1" fill="#c22424" stroke="#e8646c" stroke-width="0.9"/><circle cx="606.1" cy="515.5" r="4.1" fill="#c22424" stroke="#e8646c" stroke-width="0.9"/><circle cx="616.9" cy="518.7" r="4.1" fill="#c22424" stroke="#e8646c" stroke-width="0.9"/><circle cx="627.6" cy="521.4" r="4.1" fill="#c22424" stroke="#e8646c" stroke-width="0.9"/><circle cx="638.3" cy="523.4" r="4.1" fill="#c22424" stroke="#e8646c" stroke-width="0.9"/><circle cx="649.1" cy="524.8" r="4.1" fill="#c22424" stroke="#e8646c" stroke-width="0.9"/><circle cx="659.8" cy="526.8" r="4.1" fill="#c22424" stroke="#e8646c" stroke-width="0.9"/><circle cx="670.5" cy="527.5" r="4.1" fill="#c22424" stroke="#e8646c" stroke-width="0.9"/><circle cx="681.3" cy="528.2" r="4.1" fill="#c22424" stroke="#e8646c" stroke-width="0.9"/><circle cx="692.0" cy="529.7" r="4.1" fill="#c22424" stroke="#e8646c" stroke-width="0.9"/><circle cx="702.7" cy="533.5" r="4.1" fill="#c22424" stroke="#e8646c" stroke-width="0.9"/><circle cx="713.5" cy="544.2" r="4.1" fill="#c22424" stroke="#e8646c" stroke-width="0.9"/><circle cx="724.2" cy="559.9" r="4.1" fill="#c22424" stroke="#e8646c" stroke-width="0.9"/><circle cx="734.9" cy="573.9" r="4.1" fill="#c22424" stroke="#e8646c" stroke-width="0.9"/><circle cx="745.6" cy="582.6" r="4.1" fill="#c22424" stroke="#e8646c" stroke-width="0.9"/><circle cx="756.4" cy="587.6" r="4.1" fill="#c22424" stroke="#e8646c" stroke-width="0.9"/><circle cx="767.1" cy="590.5" r="4.1" fill="#c22424" stroke="#e8646c" stroke-width="0.9"/>
</g>
<rect x="436.4" y="355.2" width="334.1" height="248.6" fill="none" stroke="#111" stroke-width="1.3"/>
<line x1="436.4" y1="420.5" x2="443.4" y2="420.5" stroke="#111" stroke-width="1.3"/>
<line x1="436.4" y1="485.8" x2="443.4" y2="485.8" stroke="#111" stroke-width="1.3"/>
<line x1="436.4" y1="551.1" x2="443.4" y2="551.1" stroke="#111" stroke-width="1.3"/>
<text x="432.6" y="361.2" font-size="17.5" text-anchor="end" fill="#111">2.0</text>
<text x="432.6" y="426.5" font-size="17.5" text-anchor="end" fill="#111">1.5</text>
<text x="432.6" y="491.8" font-size="17.5" text-anchor="end" fill="#111">1.0</text>
<text x="432.6" y="557.1" font-size="17.5" text-anchor="end" fill="#111">0.5</text>
<text x="436.4" y="623.4" font-size="17.5" text-anchor="middle" fill="#111">550</text>
<line x1="503.1" y1="603.8" x2="503.1" y2="596.8" stroke="#111" stroke-width="1.3"/>
<text x="503.1" y="623.4" font-size="17.5" text-anchor="middle" fill="#111">600</text>
<line x1="569.8" y1="603.8" x2="569.8" y2="596.8" stroke="#111" stroke-width="1.3"/>
<text x="569.8" y="623.4" font-size="17.5" text-anchor="middle" fill="#111">650</text>
<line x1="636.5" y1="603.8" x2="636.5" y2="596.8" stroke="#111" stroke-width="1.3"/>
<text x="636.5" y="623.4" font-size="17.5" text-anchor="middle" fill="#111">700</text>
<line x1="703.2" y1="603.8" x2="703.2" y2="596.8" stroke="#111" stroke-width="1.3"/>
<text x="703.2" y="623.4" font-size="17.5" text-anchor="middle" fill="#111">750</text>
<text x="769.9" y="623.4" font-size="17.5" text-anchor="middle" fill="#111">800</text>
<text x="603" y="645.5" font-size="17.5" text-anchor="middle" fill="#111">Wavelength (nm)</text>
<text transform="translate(404,480) rotate(-90)" font-size="17.5" text-anchor="middle" fill="#111">Absorbance</text>
<text x="388.5" y="328.3" class="b" font-size="16.5" fill="#111">(d)</text>
<line x1="454.5" y1="520.5" x2="480.7" y2="520.5" stroke="#3c5a80" stroke-width="1.5"/><circle cx="467.3" cy="520.5" r="3.8" fill="#1b2340" stroke="#1b2340" stroke-width="0.6"/><text x="484.8" y="525.8" class="b" font-size="13" fill="#111">Perovskite</text>
<line x1="454.5" y1="538" x2="480.7" y2="538" stroke="#eea070" stroke-width="1.5"/><circle cx="467.3" cy="538" r="3.8" fill="#e8854a" stroke="#e8854a" stroke-width="0.6"/><text x="484.8" y="542.7" class="b" font-size="13" fill="#111">Perovskite/TTC</text>
<line x1="454.5" y1="555" x2="480.7" y2="555" stroke="#f4a8d0" stroke-width="1.5"/><circle cx="467.3" cy="555" r="3.8" fill="#ea80c0" stroke="#ea80c0" stroke-width="0.6"/><text x="484.8" y="559.7" class="b" font-size="13" fill="#111">Perovskite/C<tspan dy="3.2" font-size="10">60</tspan><tspan dy="-3.2" font-size="0.1"> </tspan></text>
<line x1="454.5" y1="576" x2="480.7" y2="576" stroke="#a03030" stroke-width="1.5"/><circle cx="467.3" cy="576" r="3.8" fill="#c42626" stroke="#c42626" stroke-width="0.6"/><text x="484.8" y="581.2" class="b" font-size="13" fill="#111">Perovskite/TTC/C<tspan dy="3.2" font-size="10">60</tspan><tspan dy="-3.2" font-size="0.1"> </tspan></text>
<rect x="643.5" y="371" width="19.1" height="104.6" fill="url(#itod)"/>
<text transform="translate(656.6,425.5) rotate(-90)" class="b" font-size="10.9" text-anchor="middle" fill="#0c1420">ITO</text>
<rect x="662.3" y="371" width="19.3" height="104.6" fill="url(#ptaad)"/>
<text transform="translate(675.5,424.5) rotate(-90)" class="b" font-size="10.9" text-anchor="middle" fill="#2a1004">PTAA: F4-TCNQ</text>
<rect x="681.3" y="371" width="18.3" height="104.6" fill="url(#pvkd)"/>
<text transform="translate(694,424.5) rotate(-90)" class="b" font-size="10.9" text-anchor="middle" fill="#3a0a08">CH<tspan dy="2.4" font-size="7.6">3</tspan><tspan dy="-2.4" font-size="0.1"> </tspan>NH<tspan dy="2.4" font-size="7.6">3</tspan><tspan dy="-2.4" font-size="0.1"> </tspan>PbI<tspan dy="2.4" font-size="7.6">3</tspan><tspan dy="-2.4" font-size="0.1"> </tspan></text>
<rect x="699.3" y="371" width="19.4" height="104.6" fill="url(#ttcd)"/>
<text transform="translate(712.55,425) rotate(-90)" class="b" font-size="10.9" text-anchor="middle" fill="#1a1008">TTC</text>
<rect x="718.4" y="371" width="19.3" height="104.6" fill="url(#c60d)"/>
<text transform="translate(731.6,425) rotate(-90)" class="b" font-size="10.9" text-anchor="middle" fill="#1a1204">C<tspan dy="2.4" font-size="7.6">60</tspan><tspan dy="-2.4" font-size="0.1"> </tspan></text>
<rect x="737.4" y="371" width="17.1" height="104.6" fill="url(#bcpd)"/>
<text transform="translate(749.5,425) rotate(-90)" class="b" font-size="10.9" text-anchor="middle" fill="#101804">BCP</text>
<path d="M578.2,426.2 L617.5,426.2 L617.5,415.9 L639.3,436 L617.5,456 L617.5,446.1 L578.2,446.1 Z" fill="#f8d890" stroke="#f8d890" stroke-width="4" stroke-linejoin="round" filter="url(#blur2)"/>
<path d="M578.2,426.2 L617.5,426.2 L617.5,415.9 L639.3,436 L617.5,456 L617.5,446.1 L578.2,446.1 Z" fill="#f2b62c" stroke="#5c4a22" stroke-width="1.1" stroke-linejoin="miter"/>
<text x="584.7" y="413" class="b" font-size="10.8" fill="#f2a83c">Light</text>
</g>
</svg>
</body></html>
